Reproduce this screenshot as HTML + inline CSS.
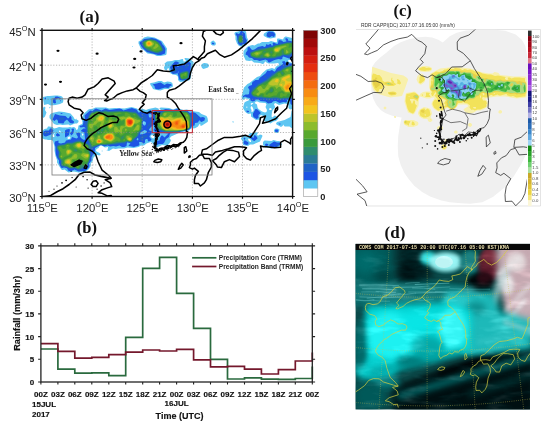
<!DOCTYPE html><html><head><meta charset="utf-8"><style>html,body{margin:0;padding:0;background:#fff;overflow:hidden}svg{display:block}</style></head><body>
<svg width="550" height="426" viewBox="0 0 550 426">
<defs><filter color-interpolation-filters="sRGB" id="bl1" filterUnits="userSpaceOnUse" x="0" y="0" width="550" height="426"><feGaussianBlur stdDeviation="0.6"/></filter><filter color-interpolation-filters="sRGB" id="bl3" filterUnits="userSpaceOnUse" x="0" y="0" width="550" height="426"><feGaussianBlur stdDeviation="3"/></filter><filter color-interpolation-filters="sRGB" id="bl5" filterUnits="userSpaceOnUse" x="0" y="0" width="550" height="426"><feGaussianBlur stdDeviation="5"/></filter><filter color-interpolation-filters="sRGB" id="bl2" filterUnits="userSpaceOnUse" x="0" y="0" width="550" height="426"><feGaussianBlur stdDeviation="1.8"/></filter><filter color-interpolation-filters="sRGB" id="db1" filterUnits="userSpaceOnUse" x="0" y="0" width="550" height="426"><feGaussianBlur stdDeviation="0.6"/></filter><filter color-interpolation-filters="sRGB" id="db3" filterUnits="userSpaceOnUse" x="0" y="0" width="550" height="426"><feGaussianBlur stdDeviation="2"/></filter><filter color-interpolation-filters="sRGB" id="db4" filterUnits="userSpaceOnUse" x="0" y="0" width="550" height="426"><feGaussianBlur stdDeviation="3"/></filter><filter color-interpolation-filters="sRGB" id="db5" filterUnits="userSpaceOnUse" x="0" y="0" width="550" height="426"><feGaussianBlur stdDeviation="4"/></filter><filter color-interpolation-filters="sRGB" id="db6" filterUnits="userSpaceOnUse" x="0" y="0" width="550" height="426"><feGaussianBlur stdDeviation="5.5"/></filter><filter color-interpolation-filters="sRGB" id="db8" filterUnits="userSpaceOnUse" x="0" y="0" width="550" height="426"><feGaussianBlur stdDeviation="7"/></filter><filter color-interpolation-filters="sRGB" id="tex" filterUnits="userSpaceOnUse" x="355" y="243" width="176" height="168"><feTurbulence type="fractalNoise" baseFrequency="0.035 0.11" numOctaves="3" seed="7" result="t"/><feColorMatrix in="t" type="matrix" values="0 0 0 0 1  0 0 0 0 1  0 0 0 0 1  1.6 0 0 0 -0.8" result="tt"/><feComposite in="SourceGraphic" in2="tt" operator="arithmetic" k1="0" k2="1" k3="0.22" k4="-0.06"/></filter><clipPath id="ca"><rect x="42" y="30.3" width="250.6" height="166.2"/></clipPath><clipPath id="cd"><rect x="355.6" y="250" width="174.4" height="159.4"/></clipPath><clipPath id="cc"><rect x="356" y="29.5" width="171" height="176.5"/></clipPath></defs>
<g clip-path="url(#ca)">
<g><path fill="#5ec6f2" fill-rule="evenodd" d="M240 30l2 -0.5l4 2l1 6l1 2l-1.5 5.5l-5.5 1.5l-2 -0.5l-2 -2.5l-1.5 -4l0 -3l-1 -2.5l0 -1l1 -1l3 -0.5l1.5 -1.5zM269 30.5l4 0.5l2 1.5l1 2l-0.5 3l-5 1l-3 -0.5l-3.5 -2l-0.5 -1l0.5 -1.5l3 -2l2 -1zM148 36.5l6.5 1l7.5 3.5l5 7.5l-0.5 5.5l-0.5 1l-5.5 1l-3.5 0l-3 -1.5l-6.5 -1l-4 -3.5l-2.5 -1l-2.5 -5.5l0 -2l3 -1.5l2.5 -2.5l3.5 -1zM286 36.5l6 1.5l0.5 2.5l2.5 3.5l-1 3l0 4.5l-0.5 3l0.5 3.5l-1.5 2l-4 0l-0.5 1l1 1l3.5 1l2 4l-0.5 19l0.5 7l-0.5 4.5l-0.5 2.5l0.5 5l-0.5 2.5l-1 1.5l-2.5 0.5l-1.5 -1.5l0 -3l-1 -1l-3 -0.5l-5.5 1.5l-3.5 -2l-1 0.5l-0.5 1l1 2l0 1l-2.5 3l-0.5 1.5l-0.5 4.5l1 1l1.5 -1.5l1 -0.5l3.5 2.5l0 0.5l-2.5 2.5l-2.5 0.5l-3 2l-3 -1.5l-2.5 -0.5l-1.5 -1.5l1 -2l-0.5 -1l-1.5 -1.5l-1.5 -0.5l-1.5 1l1.5 3.5l-5 0.5l-5 -3.5l0 -2.5l-0.5 -0.5l-2 0.5l-2 -1l-1.5 -1.5l-2 -3.5l1 -4l0.5 -1.5l1.5 -1l2.5 -1l0.5 -0.5l-0.5 -1l-2.5 -0.5l-1 0l-2 1.5l-1 -1l-0.5 -2.5l2.5 -9l3.5 -3.5l2 -1l7.5 -6l3 -1l2.5 -3l4 -3.5l5.5 -1.5l2.5 1l1.5 -2.5l2.5 -1l0.5 -1.5l-1 -1l-4 0.5l-5.5 0l-2 -1l-1 -1l-0.5 0l-1 2l-1.5 0.5l-2.5 -1l-6 -0.5l-2.5 -2l-2 0.5l-3.5 -0.5l-0.5 -0.5l-2 -4.5l0 -4.5l3.5 -4l1.5 -1l4 -1l2 0.5l3.5 -2l1.5 0l2.5 -1.5l6.5 0l2.5 -1l5.5 1.5l0.5 -1l0 -2l0.5 -1l1.5 0l4 1l1 -2l1.5 -1zM256 101.5l-1.5 1.5l2.5 1.5l0.5 3l1 1.5l3.5 2.5l3 1l1.5 -0.5l0.5 -2l-1.5 -3l1 -2.5l-1 -1.5l-6 -0.5l-2 -1l-1.5 0zM251.5 103l-1 1l1 1l2 -2l-1.5 0zM246.5 106.5l0 1.5l0.5 0l0.5 -1l-0.5 -0.5zM251 106.5l-0.5 1.5l1 2l0 2l0.5 0l1.5 -1l0 -1.5l-1 -2.5l-1 -1l-0.5 0.5zM270 108l-1 1l0.5 1l2 0l0 -1.5l-1.5 -0.5zM212 41l1.5 -0.5l2 2l0.5 1.5l-1 1.5l-2.5 0l-1.5 -1l-0.5 -2l1.5 -1.5zM132 46l1 0l0 0.5l-1 0l0 -0.5zM185.5 58l4 0.5l4 3.5l0 2l-2 6l-0.5 7l-1 2.5l-1 1l-2 0l-2.5 1l-4.5 0.5l-2 -2l0 -3l-0.5 -1l-1.5 -1l-3.5 -0.5l-2.5 -1.5l-1.5 -5l-0.5 0l-1.5 2.5l-2 -1l-0.5 -2l1 -2.5l-0.5 -1.5l2.5 -2l5 -0.5l3 -1l4 0l3 -1l1 0l0.5 2.5l1.5 0l1 -1l-1.5 -1.5l0 -0.5l0.5 -0.5zM204.5 63l3 0.5l1.5 1.5l0 1l-1 1.5l-4.5 1.5l-1.5 -1l-1 -2.5l1 -1.5l2 -1zM158.5 81l3 0l2.5 1.5l3.5 -1l3.5 0.5l1.5 1.5l0.5 3l-4.5 2.5l-4 0l-4 1.5l-4 -0.5l-3.5 -1l-1 -2l-1.5 -2l-0.5 -1.5l1 -0.5l3 -0.5l4.5 -1.5zM55.5 95.5l2 0l3.5 0.5l1.5 1l1 2.5l-0.5 3l-3 1.5l-4.5 1l-5 0.5l-2.5 -1.5l-4 1l-1 -6.5l0 -1.5l4.5 -1l2 0l5.5 -0.5zM44 106.5l1.5 1l-0.5 2.5l1.5 2.5l-1.5 4l-1.5 1.5l-1 -1.5l0.5 -2.5l0 -6l1 -1.5zM49.5 107l1 -0.5l0 1l-1.5 1l0.5 -1.5zM104.5 107.5l1.5 0l3 1l6 -0.5l9.5 0.5l7 -1.5l5.5 1.5l2 2l3 -2l4 1.5l2.5 -1l7 -1.5l3 1l0.5 1.5l1 0.5l1 -0.5l-1.5 -1.5l0 -0.5l1.5 -0.5l8 0.5l4 1.5l4 -1.5l6.5 2l3 -0.5l8.5 2l4 0.5l2.5 2l5 2l1 2l0.5 3l-0.5 1l-5.5 3.5l-1.5 0.5l0 -1.5l-1 -0.5l-1.5 2.5l-2.5 1.5l-1.5 0.5l-2 -0.5l-4 3l-8 1.5l-9 4l-1.5 2l1.5 1.5l-0.5 1.5l-1.5 2.5l-2 1.5l-5 -0.5l-4 2l-1.5 0.5l-2 -1.5l-2.5 -3.5l-1.5 -0.5l-4 1.5l-2.5 2l-3 0l-2.5 1.5l-5 1l-6 -0.5l-3.5 1l-5.5 0l-3 0.5l-2.5 -0.5l-4 2.5l-3 -1l1.5 0l0.5 -2l0 -1l-3 0.5l-3.5 -2l-1.5 0l-1.5 2.5l-2 1l-0.5 1.5l0.5 1l3 1.5l1 1l0 1l-1.5 0.5l-2.5 -1l-3 3l-0.5 1.5l-0.5 2.5l-1.5 1.5l-0.5 3.5l-1.5 2.5l-3.5 3l-7 0.5l-4.5 -1l-5.5 1l-4 -3l-1.5 0.5l-1 0l-1 -1l-4 -6.5l0 -2.5l-1.5 -4l-1 -5.5l0 -3.5l-1.5 -6l-1.5 -1l-3.5 0l-1.5 -0.5l-1.5 0l-2.5 -1l-1 -2l0.5 -5.5l2.5 -2l2.5 -0.5l1 -2l1 0l3.5 0.5l1.5 1.5l2.5 -0.5l2.5 -1l3.5 0.5l5.5 0l2 -0.5l1.5 0.5l2.5 -0.5l1.5 1l1 2l0.5 0l1 -1.5l0.5 -3l3.5 -1.5l0.5 -1l-0.5 -3l-1.5 -2l2 -0.5l1 -3.5l5 -4.5l1.5 -0.5l2 0l3.5 -1.5l9 0zM143.5 122.5l0 1l0.5 0l0.5 -1l-1 0zM59 130.5l0 1l1.5 1l0 -1.5l-1.5 -0.5zM54.5 133l-2 2.5l0.5 1.5l1 0l0.5 -0.5l-0.5 -2l1 -1.5l0 -0.5l-0.5 0.5zM82 133.5l0 2l1 0l0.5 -1.5l-1.5 -0.5zM158.5 134.5l-0.5 1.5l1 0.5l1 -1l-1 -1zM152 135l-1.5 1l0.5 1l1 1l1.5 0.5l1 -1.5l0 -1l-1 -1l-1.5 0zM74 135.5l0.5 0l0 -0.5l-0.5 0.5zM69 136.5l-1.5 1l0 1l0.5 0.5l1.5 0l1 -1l-0.5 -1.5l-1 0zM292 110.5l1 4l-0.5 3l0.5 4l-1 3l1.5 2l-0.5 1l-1.5 0.5l-2 -1.5l-4.5 0l-1 -0.5l-0.5 -1.5l-1 1.5l-1.5 1l-4.5 -2.5l-0.5 -1l1 -1.5l7.5 -2l6 -3l1 -6zM59 111.5l5 0.5l6.5 1.5l3 3.5l1 2l1.5 0.5l0.5 -1.5l0 1.5l2 1l0 1.5l-1.5 1.5l-2 0l-5 2l-1.5 -1l-6 0.5l-2.5 -0.5l-3 0.5l-3 -1l-4.5 -6l0 -2.5l1 -1.5l1.5 -1l7 -1.5zM232.5 121.5l1 0l0.5 0.5l-0.5 0.5l-1.5 -0.5l0.5 -0.5zM275.5 128.5l2 0l2 1l-0.5 2l-1 1.5l-2 0l-2 -1.5l0 -1.5l1.5 -1.5zM257 132l1 1l-1 1.5l0.5 1l1 0l1.5 -1l2 0.5l0.5 1l-2.5 5.5l-7 3l-3 0l-2 1.5l-5 -1l-0.5 -4l-1.5 -2l0 -1l1.5 -1.5l2 -1l3 1.5l1 -2l1.5 -2l1.5 0l3.5 0l2 -1zM248 138.5l0.5 2l1.5 1.5l1 0l0 -1l-0.5 -1.5l-2.5 -1zM265 140.5l6.5 0.5l2 -1l3.5 1l2.5 0l1.5 1.5l1 2l-1.5 1.5l-4.5 2l-2.5 0l-2.5 0.5l-2.5 -1l-3 0l-1.5 -1l-1 -2l0 -2.5l1.5 -1.5zM102 150.5l1 0.5l-1 0.5l-0.5 -0.5z"/><path fill="#1c54e4" fill-rule="evenodd" d="M241 31l1 0l3 2.5l0.5 4.5l1.5 2.5l-1.5 3.5l-2 0l-2.5 1.5l-2 -1l-1 -1.5l-1 -6.5l-1.5 -2.5l1 -1l2 1l1 -0.5l1.5 -2.5zM269 31.5l4 0.5l1.5 1l0.5 1.5l-0.5 2l-1 0.5l-1.5 -1l-2.5 1.5l-2.5 -1l-0.5 -1l0.5 -2.5l2 -1.5zM148.5 38.5l3.5 -0.5l4 1l5 2.5l1.5 3l1.5 1.5l1.5 3l-0.5 4.5l-4 1.5l-3 0l-11 -3l-5 -4.5l-2.5 -4.5l0.5 -1l2 -1l2 -2l4.5 -0.5zM286 38l2 1l0 1.5l4.5 1l1.5 2l-0.5 8.5l-1 2.5l0.5 2.5l-1 1l-3 0.5l-5.5 -2l-1 0.5l0 1.5l-1.5 1l-2.5 -0.5l-4 1l-5 2.5l-1.5 -0.5l-0.5 -1.5l-2 -1l-6 1.5l-2.5 -1l-3 0l-2 -2l-3 -0.5l-1.5 -2l-2 -1l0.5 -2l1.5 -2l0 -2.5l1 -1l1 0l2 2.5l1 0.5l2 -0.5l3.5 -2.5l4.5 -1l2 1l1 -0.5l1 -2.5l1.5 1l2 -1l1 0l0.5 1.5l1 0l0.5 -0.5l-0.5 -1.5l1 -1l3.5 1.5l1 -0.5l0.5 -3l0.5 -0.5l2.5 0.5l2 1.5l2.5 -0.5l0.5 -0.5l-1 -1l0 -1.5zM212.5 42.5l1.5 0.5l0.5 1l-1 0.5l-1.5 -0.5l0 -1l0.5 -0.5zM175 61.5l2 0l2.5 1.5l-2.5 1.5l0 1.5l0.5 1l1 -0.5l1.5 -1.5l3.5 0l4.5 -4l3 2.5l-1 12.5l-1 3l-6 1.5l-3.5 -0.5l-2 -7l1.5 -1l0 -0.5l-1 0.5l-0.5 1l-1 0.5l-3.5 0.5l-1.5 -1l-1.5 -6l5 -5.5zM282.5 61.5l2 -0.5l1 1.5l2 1l4 0l2.5 3l-0.5 20l0.5 7l-0.5 4l-1.5 2.5l0.5 4l-0.5 1l-1.5 -1l-0.5 -3.5l-2 -1l-1 0.5l0 1.5l-1 1l-2.5 -0.5l-4 1l-3.5 -2l-1 0l-2 0.5l-1.5 1.5l-3.5 0.5l-2.5 -2l-5 -0.5l-2 -1.5l-2.5 0l-1.5 1.5l-2 0.5l-2 -1l-0.5 -2.5l-3 -0.5l-2 -1l-2 1l0 -1.5l2.5 -1.5l2.5 0l1 -0.5l0.5 -4l-1.5 -2.5l1 -1.5l3 -1l0 -2l0.5 -1l3 -2l3 0l1 -2l6 -4.5l2 -3l2 0.5l2.5 -1l2 1.5l1 0l2 -3.5l6 -4l0 -0.5l-1 -1.5l0.5 -0.5zM158.5 83l2 -0.5l4 2.5l2.5 -1.5l2.5 0.5l1.5 0l1 1.5l-2 0.5l-1 1.5l-1 0.5l-3 -0.5l-6.5 2l-2.5 -0.5l-1 -0.5l-0.5 -2.5l-2 -1.5l6 -1.5zM56 96.5l1.5 0l3.5 1.5l-1 1.5l-1.5 -1.5l-3 1.5l0.5 3.5l-1.5 0.5l-1.5 -1l0 -3.5l1.5 -1l1 -1.5zM44.5 98l1.5 -0.5l0 1.5l-1 0.5l-0.5 -1.5zM60.5 100l0.5 1l-0.5 0.5l-0.5 -1zM130 108.5l2 -0.5l4.5 1.5l2 3l1 0l2.5 -2l2 2l2 0.5l1 -0.5l2.5 -2l1 -0.5l1 1.5l1 0.5l1.5 -0.5l2.5 -1.5l4 1l5 -2l8 1l3.5 -1l2.5 1l4 1l3.5 -0.5l3 2.5l2.5 -1l3 1l5 4.5l2.5 -0.5l2 1l-0.5 2.5l-3 1.5l-1 -0.5l-0.5 -1l-1 0l-1 2l-3 0.5l-0.5 2.5l-2.5 0.5l-2 3l-2 1l-10.5 2.5l-3 0l-4.5 1l-1 3.5l-3 2l-2 4l-1.5 1l-3.5 0l-3 1.5l-1.5 -1l0 -1.5l2 -2l3 -0.5l0.5 -2.5l1.5 -2.5l1 0l2 2l0.5 -0.5l3.5 -3.5l-9 -1l-3 0.5l-1 -0.5l-2 -2.5l1 -1.5l0 -2l0 -1l-1 -0.5l-3 2.5l-1.5 2l0.5 1l2 0.5l0.5 1l-0.5 1.5l-2 2.5l0 1l2 2.5l-0.5 1l-1 0.5l-1.5 0.5l-0.5 -0.5l-0.5 -2l-1.5 0l-1 1l0 2.5l-1 1l-0.5 0l-2 -1.5l-2 0l-0.5 0.5l0.5 2l-0.5 1l-5 1.5l-5 -1l-0.5 -0.5l2 -2l-2.5 -1l-1 0l-0.5 3.5l-2 1l-2.5 0l-2.5 -1.5l-3.5 1l-2.5 -0.5l-3.5 0.5l-2.5 -1l-3 1l-3 -1.5l-2 0.5l-4.5 2.5l-0.5 6l-1.5 0.5l-1.5 3l0 3l-2.5 3l0.5 2.5l-1 2l-3.5 3l-6.5 0.5l-4 -2l-3 1.5l-2 0l-1.5 -0.5l-0.5 -1.5l-1 -1l-2.5 -0.5l-2 0.5l-1 -0.5l-2 -4.5l0 -2.5l-1.5 -2l-1.5 -3.5l-0.5 -4.5l0 -3.5l-1 -3.5l0.5 -2l3.5 -1l0 2.5l2.5 0.5l4 -1l1 -2l5 -1l1 -2.5l4.5 1.5l1 -0.5l0.5 -1l-2 -3.5l2.5 -1l2 1l-0.5 3l1 1.5l2 1.5l1.5 0.5l0.5 -1l-0.5 -5.5l-1 -1.5l-2 -0.5l-0.5 -1l2.5 -2l2 0l0 -0.5l-1.5 -1l-3.5 0.5l-1 -1l1 -1l1.5 0l1 -1l0.5 -3.5l1.5 -2.5l-0.5 -3l5 -4.5l1 -0.5l2 0.5l2.5 -2l1 -0.5l5.5 2l4 -2l4 1.5l10 -1.5l2 0.5l2 1.5l6 -2zM149 114l-0.5 0.5l0.5 2.5l0.5 0.5l1.5 0l1 -1l0 -1.5l-1 -1l-1.5 0zM143 121.5l-0.5 1.5l0.5 1.5l1 1l1 0l1 -1.5l0 -1.5l-1 -1l-1.5 -0.5zM144.5 130l-4 2.5l-0.5 2l5 -1l1.5 -1l0.5 -1.5l-2.5 -1zM137.5 138l-1 1.5l1 1l1 -1l-0.5 -1.5zM256 109l1.5 0.5l3.5 3.5l-2.5 2l0 3l-2 1l-3 -2l-0.5 -1.5l0 -2l2.5 -4.5zM246.5 110.5l2.5 0.5l0 1l-1.5 0.5l-1 -1l0 -1zM61 113l1.5 0l0 0.5l-1.5 0.5l-0.5 -1zM55 114l5 1.5l5.5 0.5l2.5 2.5l1 -0.5l1 -2l0.5 0l1 1.5l0 2l2.5 2l0 1l-1.5 1l-2.5 -0.5l-3 -3.5l-2.5 2l-1 2l-5 -0.5l-0.5 -0.5l0 -1.5l-1 -1.5l-1 0l-1.5 1.5l-2 -1.5l2.5 -5.5zM279 123.5l1.5 0l0 1l-1.5 0l-0.5 -1zM50 128.5l1.5 0l2 2l-1.5 3l-1 1l-5 2l-2 -0.5l-1 -2l0.5 -2.5l2 -1l3.5 0l1 -2zM73 128.5l1 0.5l-0.5 4l-2 2.5l-1.5 -2l2 -2.5l-0.5 -2l1.5 -0.5zM66.5 129.5l2.5 -0.5l1 0.5l-1 5.5l-3.5 2.5l-0.5 -1l0 -6l1.5 -1zM276 129.5l1.5 0l0.5 0.5l0.5 1l-1 1l-1.5 0l-1 -0.5l0 -1l0.5 -1zM57.5 133l2.5 2l-0.5 1l-2 0.5l-1.5 -1l0 -1l1.5 -1.5zM250.5 135l1 0l1 2.5l1 0.5l0.5 -2.5l1 -0.5l2 2l0.5 1.5l-3 2.5l-1.5 -0.5l-3.5 -3.5l1 -2zM244.5 137.5l1 1l-1 1.5l-1 -1.5l1 -1zM244.5 140l4 2.5l0 1l-0.5 1l-1.5 0.5l-2.5 -1l-0.5 -1.5l1 -2zM274.5 141.5l2.5 1l2.5 0l1 1l0 1l-4 2.5l-5.5 0l-1 -0.5l-1 -1.5l5 -3.5zM266 143.5l2 0.5l0.5 1l-0.5 0.5l-1.5 0.5l-1 0l-0.5 -1.5l1 -1z"/><path fill="#1f62c6" fill-rule="evenodd" d="M269 32.5l2.5 1l-1.5 2l-1 0.5l-0.5 -0.5l-0.5 -1.5l1 -1.5zM272.5 33.5l1 0l0 1l-1.5 -1zM241 34.5l2 0.5l1 4.5l1 2l-0.5 1l-3.5 1.5l-2.5 -1l-1 -3.5l0.5 -3.5l1 -1l2 -0.5zM149 39l3 0l3.5 1l4.5 2.5l3.5 6l0.5 1.5l-1 1.5l-3.5 2.5l-1.5 0l-11 -3l-3.5 -3.5l-2 -4.5l2.5 -3l4.5 -1zM280.5 41.5l1.5 1.5l7.5 -1.5l2.5 0.5l1 1l0.5 1.5l0 7.5l-2 3l-1 2l-1.5 0.5l-2 -1.5l-3.5 -0.5l-2 1l-1 1l-2.5 0l-2 1l-4 0.5l-7.5 -0.5l-4 1l-6 -1l-4 -1.5l-0.5 -1l-0.5 -3l1 -1.5l10 -4l4 0.5l5.5 -1.5l2.5 0l2.5 -2l3.5 0l1.5 -1l0 -1.5zM187.5 63.5l1 1l0 1.5l-1.5 2l-2.5 0.5l0 -0.5l1 -2.5l2 -2zM285 64.5l2 1.5l4.5 -1l2 1.5l-0.5 20l0.5 7.5l0 3l-1 1.5l-2 0.5l-7 0l-2.5 1.5l-3 -0.5l-2 -1l-5 0l-1 0.5l0 2l-1.5 1l-1 -1l-1 -2.5l-1.5 0l-1 1l-1 0l-2 -2l-3.5 0l-4 -1l-2.5 -2l-0.5 -2l1.5 -5.5l3.5 -1l1 -1l1 -2l2.5 -0.5l5.5 -3l2.5 -3l2.5 -1.5l1.5 -2.5l2.5 0l3 -3l2.5 -0.5l3 -2.5l0.5 -1.5l1 -1zM171.5 67.5l6.5 1l3 -1.5l2.5 2l0 0.5l-0.5 1l-1.5 -1.5l-2 0.5l-2.5 1l-1.5 2l-2 0.5l-1.5 -1.5l-1 -3l0.5 -1zM182.5 71l5 -0.5l1.5 1l0.5 2l-1 5l-6 1.5l-2 -0.5l-1 -3l-0.5 -3l1 -1l2.5 -1.5zM264.5 75.5l2.5 1l-0.5 1l-1 0.5l-1.5 -0.5l-0.5 -1l1 -1zM261 78.5l1 0l0 0.5l-1 1.5l-0.5 -1l0.5 -1zM158.5 85l1.5 0l-0.5 0.5l-1 0l0 -0.5zM167 85l1 0.5l0 1l-1 0l-0.5 -1zM253 99.5l0.5 0.5l-0.5 0l0 -0.5zM131.5 109.5l1.5 0.5l-1 1l1 0.5l2 -1l1 0.5l1.5 2l2 1l1 2l1.5 1l1 -0.5l-2.5 -2.5l0.5 -1l4 1.5l1.5 2l0.5 2l-0.5 2l-2.5 -0.5l-1 0.5l-1 2.5l0.5 4l-0.5 3l-2.5 3l-1.5 3.5l-5.5 6l-5.5 -0.5l-2 2.5l-3 -1l-7 1.5l-7.5 0l-2.5 0.5l-5 -0.5l-6 2.5l-1 2l-2 1l0 5l-1 5l-2 5l-1.5 1l-3 1.5l-1 2l-4 0.5l-4 -2l-4.5 0.5l-3.5 -1.5l-5 -1l-1 -1.5l0 -4l-3 -5l1 -4l-2 -3l0 -3l2 -1.5l6.5 -1l3.5 -2l2.5 0.5l2.5 -0.5l5.5 -2.5l4 2.5l5.5 2l0 -1.5l-2.5 -4l0 -1.5l1 -1l-1 -3l0.5 -4.5l-0.5 -2l-1.5 -1l0 -2.5l0.5 -1.5l1.5 0.5l2.5 -7l1.5 -2l5.5 -2.5l5.5 1l4 -1l3 1l4.5 0l6.5 -1l4 1l6.5 0l0.5 -0.5l0.5 -1zM166.5 110l7 0.5l3 -0.5l3 1l7.5 0l3 3l2 3.5l1 -1.5l-0.5 -2l1 -0.5l1.5 0.5l3 3l0.5 1l-2 2.5l-5 1l-1 6l-1 1.5l-1.5 0.5l-10.5 2.5l-6 0l-6.5 0l-7.5 -1.5l-3 -9l-1.5 -8l3.5 -2.5l4 1l6 -2zM256 111l0.5 0l0 0.5l-0.5 -0.5zM59.5 117.5l4 0l1.5 0.5l0 1l-4 1.5l-2 -1.5l-0.5 -1l1 -0.5zM150.5 120l2 2l0.5 1.5l-2 2l-2.5 1l-0.5 2l-1 0.5l-0.5 -1l1.5 -3.5l2 -2.5l0 -1.5zM45 132l2 -0.5l1.5 1.5l-3.5 2l-1 -1.5l1 -1.5zM145.5 135l2 0l0 1l0 1l-3 1l-1.5 2.5l-3 -0.5l-0.5 -2l1.5 -2l1.5 -1l2.5 0zM135 141l1 0.5l-1 -0.5zM277.5 144l1 0l0 0.5l-1 1l-1.5 0l-0.5 -1l1.5 -0.5z"/><path fill="#2a7a96" fill-rule="evenodd" d="M239.5 35.5l1 -0.5l1.5 0.5l1 2.5l0 3l-1 1.5l-1 0.5l-1.5 0l-1 -2l0 -3.5l1 -2zM148.5 39.5l3.5 0l3 0.5l4 2.5l3.5 6l0.5 1.5l-0.5 1l-5.5 2l-9.5 -2.5l-4 -3.5l-1.5 -4l2 -2l4 -1.5zM288 42.5l4 0l1 1.5l0 8l-3.5 3.5l-6.5 -0.5l-3 1.5l-2 0.5l-4 1l-6.5 0.5l-3 -0.5l-4 0.5l-6 -0.5l-3.5 -1.5l-0.5 -1l-0.5 -2l0.5 -1l5.5 -2.5l4.5 -1l12 -2l3 -1.5l3 -0.5l9 -2.5zM289.5 66l2.5 -0.5l1 1.5l0.5 15.5l-0.5 4l0.5 7.5l-0.5 3l-0.5 1l-2 0.5l-7 0l-2.5 0.5l-5 -1l-7.5 0.5l-8 -1l-3 0l-4 -1l-1.5 -1.5l-1 -2l2 -3.5l5.5 -5l8 -4.5l11 -8.5l2.5 -1l5.5 -3.5l4 -1zM173.5 69l1 0l1 1l-1.5 1.5l-1 -1l0.5 -1.5zM185 71.5l2 -0.5l1.5 1l0.5 1.5l-0.5 4.5l-1.5 1l-5.5 0.5l-1.5 -2.5l-0.5 -3.5l1.5 -1l3.5 -1zM96.5 111l2.5 0l2.5 0.5l3.5 -1l3.5 1l11.5 -0.5l16 1.5l6.5 6.5l-0.5 4l0 4l-0.5 3l-2 2.5l-2 4l-4 3l-2 2.5l-4.5 -0.5l-2.5 1l-19.5 2.5l-5 -0.5l-9.5 3.5l-0.5 2l0.5 5.5l-1.5 5.5l-2 4.5l-6 3.5l-3 0.5l-3 -1.5l-5 0.5l-3 -1.5l-5 -1l-1 -1.5l0 -3.5l-2.5 -4l0.5 -5l-2 -3.5l0 -2l2 -1.5l5 -0.5l3.5 -1.5l4.5 0l4 -1.5l3 -1l10.5 4.5l0 -2.5l-2 -4l0.5 -3l-1 -3l-0.5 -7l1.5 -7l1.5 -4l1.5 -1.5l5.5 -2zM164.5 111l2.5 -0.5l6.5 0.5l3 -0.5l11 1.5l2.5 3l1 3.5l-1 9.5l-1.5 1l-4 1.5l-7.5 1l-11.5 0l-7 -2l-2 -2.5l-1.5 -6l0 -8l1.5 -1.5l4 1l4 -1.5z"/><path fill="#2f8c6e" fill-rule="evenodd" d="M240 36l1 -0.5l1 1l0.5 3l0 2l-2 1l-1.5 -0.5l-0.5 -1.5l0.5 -3l0.5 -1.5zM148 40l3 -0.5l4 1l3 2l3.5 4.5l1 2.5l-0.5 1l-3.5 2l-2.5 0l-7.5 -2.5l-3.5 -2.5l-1.5 -1.5l-0.5 -3.5l1.5 -1.5l3 -1zM287.5 43l4 0l1.5 1l-0.5 8l-3 2.5l-3.5 0.5l-3 -0.5l-3 1.5l-2.5 0.5l-2.5 1l-7.5 0.5l-3 -0.5l-8 0l-4.5 -1l-1 -1l0 -2.5l4.5 -2l14.5 -3.5l2.5 -0.5l3.5 -1.5l11.5 -2.5zM289.5 66.5l2.5 -0.5l1 1.5l-0.5 4l0.5 11.5l-0.5 3.5l0.5 8l-0.5 2.5l-0.5 1l-8.5 0l-2.5 0.5l-5 -1l-7 0.5l-8 -1l-3 0l-4.5 -1l-1.5 -1.5l-0.5 -1.5l1.5 -2.5l5.5 -5l9 -5l4 -4l6.5 -5l2.5 -0.5l5 -3l3.5 -1.5zM185 72l2 -0.5l1 1l0 5l-1 1l-5.5 0.5l-1.5 -2l0 -3l1 -1l3.5 -1zM166 111l7.5 0.5l3 -0.5l10.5 1l2.5 3l1 3l-0.5 8.5l-0.5 1.5l-1.5 1l-4 1.5l-7 1l-11.5 0l-7 -2.5l-2 -3l-1 -5.5l-0.5 -5l0.5 -3l1 -0.5l1 0l3.5 1.5l5 -2.5zM96.5 111.5l2.5 0l2.5 1l3.5 -1l3 0.5l18.5 -0.5l9 1.5l2 1.5l2 2.5l2.5 2.5l-1 10l-2.5 3l-1.5 3.5l-3.5 3l-2.5 2.5l-4.5 -0.5l-2 1l-13.5 2l-6 0.5l-4.5 -0.5l-3 1l-5 2l-1 -0.5l-3.5 -8l0.5 -3l-1 -3l0 -7l1 -7.5l2 -3.5l1.5 -1.5l4.5 -1.5zM79 141.5l1.5 0l7 3l2 2l-0.5 4l1 5l-1 5.5l-2.5 4l-6.5 3.5l-2 0.5l-3 -1.5l-5 0.5l-3 -1.5l-4.5 -1l-1 -1.5l0.5 -3l-3 -4l0.5 -5l-2 -4l0 -1.5l1.5 -1l5 -0.5l3.5 -1.5l4 0l7 -2z"/><path fill="#3a9a3c" fill-rule="evenodd" d="M240.5 36.5l1 0.5l0.5 3l-0.5 1.5l-1 0.5l-1 -0.5l-0.5 -1l1 -4zM149 40l6 1l3 2l2.5 3.5l1 2.5l0 1.5l-4 1.5l-3 -0.5l-3 -1l-2.5 -2l-2.5 -0.5l-1.5 -1l-1 -1.5l-0.5 -3l2.5 -1.5l3 -1zM287.5 43.5l4 0l1 1l0 6.5l-0.5 1l-3 2l-3 0.5l-2 -0.5l-0.5 -1.5l0 -2l-1 -0.5l-1 1l0.5 2l-0.5 1.5l-1.5 1l-2.5 0l-3.5 1.5l-3 -0.5l-3.5 1l-4 -0.5l-0.5 -0.5l-0.5 -2l-2 1l-0.5 1.5l-3 0.5l-5 -1.5l-1 -1l0.5 -2l4 -1.5l6 -1.5l2.5 0l6 -2l2.5 0l3.5 -2l11 -2.5zM264 51l-0.5 1l0 1l2.5 -1.5l0 -0.5l-1.5 0zM271 51l-1 1.5l1.5 1l0.5 -0.5l0.5 -1l-1.5 -1zM289.5 67l2 -0.5l1 1l-1 3.5l1.5 11l-1 4.5l0.5 7.5l-0.5 3.5l-2 0l-2 -0.5l-7 1l-3 -1l-3.5 -0.5l-5 1l-5 -0.5l-2 -0.5l-1 -1.5l-1.5 1l-2 0.5l-4 -1l-1.5 -1l-0.5 -1.5l1.5 -2l5.5 -5.5l9.5 -4.5l3.5 -4l2.5 -1l4 -4l2.5 -0.5l0.5 2.5l1.5 0.5l0.5 -1.5l-2 -1.5l0.5 -1l4 -2.5l3 -1zM270.5 89l-0.5 2l0.5 1l1 0l1 -0.5l0.5 -1.5l-1 -1.5l-1 0zM184.5 72.5l2 -0.5l1 0.5l0 4.5l-1 1l-4.5 1l-1.5 -2.5l0 -2.5l4 -1.5zM165.5 111.5l8.5 0.5l2.5 -0.5l10.5 1l2 2.5l1 2.5l0 9l-0.5 1.5l-6 2l-12 1l-6.5 0l-6 -2.5l-1.5 -2l-0.5 -2l-1.5 -8l0.5 -3.5l0.5 -1l1.5 0.5l3 2.5l0.5 0l1 -2l3 -1.5zM96.5 112l2.5 0l2 1.5l4 -1.5l3 0.5l18.5 -0.5l3.5 1l5.5 0.5l3 4l3 2l-1 10l-1 1.5l-2.5 1.5l-0.5 3l-3 2.5l-2.5 3.5l-1.5 0l-3 -1l-2 1l-8 0.5l-6 1.5l-12.5 1l-6 1.5l-3.5 -7.5l1 -3l-1.5 -3l0 -7l1 -7.5l1.5 -3l1.5 -1.5l4.5 -1.5zM106.5 117.5l0 1.5l1 -1l-0.5 -1zM102 128.5l-1 2l0.5 1l1.5 -0.5l0.5 -1l0 -1.5l-1 0zM97.5 131l-0.5 2l0.5 1l2 -0.5l1 -1l-0.5 -0.5l-2 -1.5zM123 136l-2 1.5l0.5 1.5l1 0l1.5 -2l0 -1l-1 0zM78.5 142l2 0l5 2l2.5 1.5l0.5 1l-0.5 4l2 5l-1.5 5.5l-2.5 4l-1.5 0.5l-1.5 0l-1.5 -1.5l-1 1l-0.5 2.5l-2 1l-3 -1.5l-5 0.5l-3 -1.5l-4 -1l-0.5 -1l0.5 -3.5l-2.5 -2l-1 -1.5l0.5 -4.5l-2 -4.5l0.5 -1.5l1.5 -0.5l4 -0.5l3.5 -1.5l4 0.5l4.5 -2l2.5 -0.5zM71 147.5l0.5 0.5l0 -0.5zM74.5 149l-0.5 1l0.5 1l1.5 0.5l1.5 -0.5l-1 -1.5l-1.5 -0.5zM81.5 162.5l0.5 0.5l0 -0.5z"/><path fill="#58a82e" fill-rule="evenodd" d="M148 40.5l3 0l4 1l2 1.5l3 3.5l1 2.5l-0.5 1l-2 0.5l-4.5 0.5l-1.5 -1l-2 -2.5l-3.5 0l-1.5 -1l-0.5 -1l-0.5 -3l3.5 -2zM240 40.5l1 0l0 0.5l-0.5 0.5l-0.5 -1zM285.5 44.5l2.5 -0.5l1 0.5l-0.5 3l0.5 0.5l2.5 -1.5l1 2.5l-1 2.5l-2.5 2l-3.5 0.5l-1 -0.5l-0.5 -4l-0.5 -0.5l-1 0l-1 0.5l-2.5 3.5l-2.5 0.5l-1 2.5l-2 0.5l-1.5 -0.5l0.5 -1l1.5 -2l-1.5 -3.5l1.5 -1.5l2.5 -1.5l8.5 -2zM260.5 51l2 0l-0.5 2l-4 3.5l-2 0l-4 -1.5l0 -1.5l1.5 -1l3 -1l3.5 -0.5zM266.5 52.5l2 -0.5l2 3l0 1l-3 1l-3.5 -1l0 -1.5l2.5 -2zM287.5 68l2 -0.5l1 0.5l-0.5 4l2 3l0.5 8l-0.5 3.5l0.5 3l0 5l-1 2.5l-1.5 -0.5l0 -2.5l-1.5 -0.5l-1 0.5l-1.5 2.5l-2.5 -0.5l-2 1.5l-1.5 -0.5l0 -2.5l0.5 -1.5l1 -0.5l2.5 1.5l0.5 -0.5l-1.5 -2l-1 -0.5l-1.5 0.5l-1.5 0l-1.5 2l-1 2l-2.5 0l-4.5 1.5l-2.5 -0.5l-3 0l-0.5 -0.5l0.5 -1.5l-1.5 -1l-1.5 0.5l-2.5 2l-5.5 -2l0 -1.5l2.5 -2l1 -2.5l2 -1.5l4 -2l2 1l1 -0.5l7 -7l5.5 -2l-0.5 -2l1 -1l1.5 0l2 3l1.5 -0.5l1.5 -2l-2 -3l4.5 -2.5zM271 87.5l-2.5 3.5l-1.5 1l-1.5 2l0.5 0.5l1 0.5l2 -2l2 0.5l2.5 -1.5l0.5 -2l0 -1l-1.5 -1.5l-1.5 0zM256 91l0.5 0.5l0 -0.5zM185 73l1.5 -0.5l0.5 0.5l-0.5 3l-1 0.5l-2.5 -1l-0.5 2l-1 0l-0.5 -1l0 -2l2 -0.5l1.5 -1zM165.5 112l4 0l3.5 1l0 3l1 1l3 -1.5l-0.5 -3l4 0l3 1l-0.5 2.5l1 0.5l0.5 -1l-0.5 -2l1.5 -0.5l1 0l2 2l0.5 1.5l0.5 10l-0.5 1.5l-5 2l-6.5 0.5l-11.5 0l-4.5 -1.5l-3.5 -3.5l0.5 -6l-2.5 -2.5l0.5 -3.5l0 -0.5l1 0l2 2.5l2 0.5l1 -0.5l0.5 -2.5l2.5 -1zM96.5 112.5l2 0l2 1.5l2.5 0l1.5 -1l0.5 0.5l1 2.5l-0.5 4l1 1l1.5 -1l1.5 -4l2 0l1 1l-0.5 2l3 1l1.5 -1l1 -2.5l7.5 -1l-0.5 -2l1.5 -1l1.5 0.5l2.5 1.5l1.5 2.5l1.5 0.5l2 -1l2.5 2l3 1l0.5 1.5l-1 3l0.5 2.5l-0.5 3l-1.5 1.5l-2.5 0.5l-5.5 3l-1.5 -4l-7.5 5l-1.5 0l-1 -2l-0.5 -0.5l-3.5 2l0.5 1l4 2l1 2.5l-1 1l-1 0l-1.5 -1l-2.5 1.5l-3.5 1l-4 -0.5l-2 1l-3 0l-5 0.5l-4.5 1.5l-3.5 -7l1.5 -3l2.5 -0.5l3 3l1.5 -3l4 -0.5l2.5 -2.5l1.5 -3l2 2.5l2 0l-2.5 -4l0 -4l-0.5 -1l-1 0.5l-2 3.5l-3.5 2.5l-2 -0.5l-1.5 -2.5l-2 0.5l-1 1l1 3l-4.5 2.5l-1 0l-1 -6.5l0.5 -2.5l1 -1.5l2.5 0l0.5 -1l-2.5 -2l0 -2l1 -2.5l1.5 -1.5l2.5 0.5l-1 2l0.5 1l3 -1l0.5 -1l-3 -1l0 -0.5l1.5 -1zM118 120l-0.5 3l-2 1l1 1.5l2 1l3 -1.5l2.5 -0.5l0.5 -4l-1 -0.5l-2 1.5l-1.5 -1.5l-1.5 -0.5zM134.5 124.5l-1 2l0.5 1l1 -1l1 -1.5l-0.5 -0.5l-1 0zM129.5 129l0.5 0l-0.5 0zM114.5 113l5.5 -0.5l2 1l-4 0.5l-2 2l-2.5 -2l0 -0.5l0.5 -0.5zM133.5 114l1.5 0l0.5 1.5l-1 0l-1.5 -1l0 -0.5zM94.5 130.5l1 0.5l0.5 1l0 1.5l-1 1l-1 -1l0.5 -2.5zM127 135l3 -0.5l2.5 1.5l0 2l-1 2.5l-2.5 0.5l-3.5 -2l0 -2.5l1 -1.5zM124 139l1 0l0 1.5l-1 0.5l-1 -0.5l0.5 -1zM78.5 142.5l2 0l7.5 4l0 1l-2 1l-2 2l1 2l3 0l1.5 2l0 1.5l-2 5l-2 1l-4.5 -3.5l-2 -0.5l-1 3l1 2.5l0 3.5l-1 1l-3 -2l-1.5 1l-2.5 0l-1.5 0l-2 -2l-3.5 -0.5l-0.5 -0.5l0.5 -4l5 -3l2.5 -0.5l1 -2.5l-1.5 0l-2.5 2l-3.5 0.5l-2.5 2l-1.5 0l-1 -2l1.5 -3l-0.5 -1l-2.5 -4.5l0 -1l2 -0.5l2.5 2.5l2.5 -0.5l0.5 -0.5l-0.5 -2l0.5 -1l2.5 -0.5l1.5 1l-1 2.5l3 2l1.5 2.5l4.5 0l2.5 1l1.5 -1l0 -1.5l-8 -3.5l-1 -1.5l3 -3l2 -0.5zM73.5 160l-0.5 0.5l-0.5 2l2 2.5l1.5 -3.5l-0.5 -1l-1.5 -0.5z"/><path fill="#8cbc2c" fill-rule="evenodd" d="M147.5 41l2 -0.5l1.5 0.5l3 2l0 1l-2 2.5l-3 0.5l-2 -0.5l-1 -1l-0.5 -2.5l2 -2zM155.5 43.5l2.5 1l0.5 2l-2.5 2l-2 0.5l-1 -1l2 -2l0.5 -2.5zM285.5 45.5l1 0.5l0 0.5l-5 2l-3 3.5l-3 0.5l-1.5 -1.5l0 -2l1.5 -1.5l10 -2zM286 49.5l2 1.5l0.5 1l-0.5 1l-2 0.5l0 -4zM256.5 52l4.5 0.5l-3 2.5l-1.5 0.5l-2.5 -2l2.5 -1.5zM267.5 53l1 0.5l1 1.5l0 1l-1.5 1l-3 -1.5l0.5 -1.5l1.5 -1zM274 55l0.5 0.5l-0.5 0l0 -0.5zM287 69l1.5 0l0 1.5l-0.5 1l-2.5 -0.5l0 -1l1 -1zM185.5 73.5l0.5 0l0 0.5l-0.5 0.5l-0.5 -0.5l0.5 -0.5zM288.5 74l1.5 0l1 1l1 7l0 2l-0.5 2.5l0.5 3.5l-0.5 4l0 -0.5l-2 -1l-4 0l-4 -3l-0.5 -1.5l-1 -1l-1.5 0l-2 2l-1.5 -2.5l-3.5 0l-1.5 0.5l-1.5 2.5l-2.5 1l-1.5 2l-4 0.5l-2 2.5l-1 0l-1 -1l0 -1l2 -1l0.5 -1l-2 -3l2 -2l2 -0.5l2 3l1.5 0l3 -4l1 -2.5l4 -3.5l4 -1.5l3.5 0l8 -3.5zM276 90.5l0.5 0.5l-0.5 1l-0.5 -0.5l0.5 -1zM165 113l2 0.5l-1 1.5l-1 1l-1 0l-0.5 -1l0 -1l1 -1zM179.5 114l1 0l0 0.5l-1 -0.5zM186.5 114l1.5 1.5l-0.5 1l-1 0l-0.5 -0.5l0.5 -2zM101 115l2.5 0l1.5 2l-1 5.5l-1.5 3.5l-1.5 1l-1 0l0 -2l1.5 -2l-1 -1l-1 0l-2 0.5l-1.5 2l-2.5 0.5l-1.5 3.5l-2 -0.5l-1 -2l0.5 -2l2.5 0l1 0l1.5 -2.5l1.5 -1l0 -2.5l3.5 -3l1.5 0zM170.5 114.5l1 0.5l0.5 2l1.5 0.5l5.5 0l2.5 -1l6.5 3l1 2l0 6l-5 2l-6.5 1l-11.5 0l-3.5 -1.5l-2.5 -4l-1 -7.5l2 -1l3.5 1l3 -0.5l2.5 -2zM157 115.5l0.5 0l0 1l-0.5 0l0 -1zM128 116.5l1 -0.5l8.5 4l2 0l0.5 0.5l0 1l-3 2l-2.5 0l-2 3l-1 1l-2.5 0l-3.5 -0.5l-2.5 1l-1 2l0 3l-0.5 1l-2.5 -2.5l-2.5 1l-2 -0.5l-0.5 -3l0.5 -2.5l2.5 0.5l2 3l0.5 0l1 -3.5l1 -0.5l3 0.5l0.5 -0.5l0 -6.5l-0.5 -0.5l-3 1l-2 -1.5l-0.5 -1l4.5 -1l2.5 1l2 -1zM92 118l1 0.5l-1 0l0 -0.5zM110 119.5l4 2l-1 1.5l1 3.5l-3.5 2.5l-2 -1l-1 -2l1 -4.5l1 -2zM137.5 124.5l1.5 0.5l0.5 1l-0.5 3.5l-1 1l-2 -0.5l-2 1l-1 0l4.5 -6.5zM125 129l1 -0.5l1 1l-1 1.5l-1 -0.5l0 -1.5zM108 133l5 -0.5l2.5 5.5l-1.5 2l-3 2l-1 0l-5.5 -2.5l-1.5 -1.5l0 -1.5l1 -1.5l3.5 -2zM99 135.5l1 0.5l0.5 2.5l2.5 1.5l0.5 1.5l-0.5 1l-2 0.5l-3.5 0.5l-1.5 -1l-0.5 -2l2 -2l0.5 -2.5l1 -0.5zM91.5 136l1.5 0.5l1 2l-1 4l-3.5 -3.5l0.5 -1.5l1 -1zM127 136l1.5 0l3 1.5l0.5 1l-0.5 1.5l-1.5 1l-2.5 -1l-1 -2l0 -1.5zM78 143l1.5 -0.5l1.5 0.5l2 3l2 0l0 1.5l-2 1.5l-1.5 -1l-2.5 0.5l-1.5 -0.5l-2.5 -2l1 -2l1.5 -1zM67.5 145l1 0.5l-0.5 0.5l-1 -0.5l0.5 -0.5zM67.5 149.5l2.5 0l1 0.5l1 1.5l-1 1.5l-3 2l-1.5 -0.5l-0.5 -3l1 -2zM83 153l5.5 1l0.5 1.5l-1 2.5l-1 0.5l-2 0l-3.5 -2.5l-0.5 -1l2 -2zM74.5 154l2 0l1 2l-1 2.5l-4 0.5l-1 1l0 3.5l1.5 2.5l-0.5 0.5l-1.5 0l-2.5 -2l-3.5 -1l-0.5 -1.5l0.5 -2l2 -1l4 -1l3.5 -4zM61.5 155.5l1 0.5l-1 1.5l-1 -1l1 -1zM77 165l0.5 0.5l0 0.5l-0.5 -1z"/><path fill="#bcc42a" fill-rule="evenodd" d="M149 41l2 0.5l2 2.5l-1.5 1.5l-3 1l-2 -1l-0.5 -2l0.5 -1.5l2 -1zM277.5 48l2.5 -0.5l0.5 0.5l-2 3.5l-3 0l-1 -1l0 -1l1 -1l2 -0.5zM257 53l1 0l0 0.5l-1 0.5l-0.5 -0.5l0 -0.5zM267.5 54l1 1l-0.5 1l-1.5 -1l0 -0.5l1 -0.5zM288 75l1.5 -0.5l1 1.5l0 3l1.5 4l-1 4l0.5 3.5l-0.5 1.5l-5 0l-1 -0.5l-2.5 -4l-2.5 -1.5l-1.5 -1l2 -3l1 -4l6.5 -3zM282.5 82l0 0.5l1 1l0 -1l-1 -0.5zM276 78.5l2.5 0l1 1.5l0 1.5l-1.5 2.5l-0.5 1.5l-2.5 -0.5l-2 0.5l-3.5 -0.5l-0.5 -1.5l0.5 -1l3 -2.5l3.5 -1.5zM267.5 87.5l0 1l-0.5 0.5l-0.5 -0.5l1 -1zM100 115.5l2.5 0l2 1.5l-0.5 2l-1.5 2l-4 0l-1 -1l-0.5 -1.5l2.5 -2.5zM170 117l4 2l2.5 -1l5 -0.5l2 1l1 1.5l3 0.5l1 1.5l0 5.5l-5 2l-5.5 0.5l-9 -0.5l-3 0.5l-1.5 -0.5l-2 -1.5l-2 -3l-1 -5.5l0 -1.5l2 -1l3.5 1l4.5 -1zM128 117.5l1.5 -0.5l3.5 1.5l2 2l0 1.5l-2 3.5l-2 1.5l-3 0l-2 -1.5l-0.5 -6l2 -2zM122.5 118l1 0l-1 0.5l-0.5 0l0 -0.5zM109.5 123.5l1.5 0l1.5 2l-0.5 1.5l-1.5 1l-1 0l-1 -1.5l0 -1.5l1 -1.5zM137.5 126.5l0.5 -0.5l0 1l-0.5 0l0 -0.5zM116 128.5l1 0.5l-0.5 0.5l-1 -0.5l0.5 -0.5zM108 133.5l4 0l2 2.5l0 2.5l-2.5 2.5l-1.5 0l-3 -1l-2 -0.5l-1 -1.5l0 -1l0.5 -1.5l3 -2zM91 137.5l1 0l0.5 0.5l-0.5 1.5l-1.5 -0.5l0.5 -1.5zM128 137.5l1.5 0l1.5 0.5l0.5 1l-0.5 1l-1 0.5l-1.5 -0.5l-1 -1l0.5 -1.5zM98.5 139l1 0l2.5 1.5l0 1l-0.5 1l-2 1l-2.5 -0.5l-0.5 -2l1.5 -2zM78 143.5l2 -0.5l1.5 1.5l-0.5 2l-1.5 1l-1.5 0l-1.5 -1.5l0 -1.5l1 -1zM68 150l2 0l1 1.5l-0.5 1l-2 1.5l-1 0l-1 -2l0.5 -1l0.5 -1zM86 154.5l1.5 -0.5l1 0.5l0 1.5l-0.5 1l-2 0l-2.5 -2l2 -0.5zM75 155.5l0.5 0.5l-1 1l0 -1.5zM67.5 159.5l2 -0.5l1 1l0 2.5l-1 1.5l-3.5 -0.5l-1 -1l0.5 -1.5l2 -1.5z"/><path fill="#f2c41e" fill-rule="evenodd" d="M148.5 41.5l1.5 0l1 1l1 1.5l-0.5 1l-2.5 1l-1.5 -0.5l-1 -2.5l1.5 -1.5zM276 49l2.5 0.5l-0.5 1.5l-1.5 0.5l-1 -0.5l-0.5 -1l0.5 -1zM288.5 75.5l1.5 0.5l-0.5 1.5l-3.5 1.5l-0.5 1l2.5 1.5l2.5 0l1 1l0 1.5l-1.5 4.5l1 2l-0.5 0.5l-4.5 0.5l-1 -1l-1.5 -3.5l0 -1l1.5 -2l0 -2.5l-0.5 -0.5l-2.5 -1l0 -1l1.5 -1.5l5 -2zM276.5 79l1.5 0l0.5 1l-0.5 1.5l-1 1l-2.5 -1l2 -2.5zM280.5 84l1.5 0l0.5 1.5l-1 0.5l-1 -0.5l-0.5 -0.5l0.5 -1zM100 116.5l2 -0.5l1.5 1l0 1.5l-1 1.5l-2 0.5l-2 -1l0 -1l1.5 -2zM128 118l1.5 -0.5l2.5 1l2 2l-0.5 3l-1 2l-1.5 1l-3 0l-2 -1.5l0 -5l1.5 -2zM160.5 118l1.5 -0.5l2.5 1.5l3.5 -0.5l1.5 1.5l2 0.5l6 -2l3.5 0l2 2.5l4.5 0.5l1 5.5l-1 1l-4.5 1.5l-5.5 0l-3.5 0l-2.5 -1.5l-4.5 1.5l-1.5 0l-2.5 -1.5l-1 -2l-0.5 -2l0.5 -2.5l-2 -1.5l0.5 -2zM110 124.5l1 0l1 1l-0.5 1l-1 0.5l-1.5 -0.5l0 -1l0.5 -1zM108 134l3.5 0l1.5 1l0.5 2.5l-1.5 2.5l-1.5 0.5l-1.5 0l-4 -2l-0.5 -1l0 -1.5l3 -2zM128.5 138.5l1.5 -0.5l1 1.5l-1.5 0.5l-1 -0.5l0 -1zM98.5 139.5l1.5 0l1 1l0.5 1l-0.5 1l-2 0.5l-2 -0.5l0 -1.5l1 -1.5zM78.5 144l1.5 0l0.5 1l0 1l-1.5 1l-1 -0.5l-1 -1l1 -1.5zM68 151l1 -0.5l0.5 1l-1 1.5l-1 -1l0.5 -1zM87.5 155l0.5 1l-1 0.5l-0.5 -1l1 -0.5zM67.5 160.5l1 -0.5l1 0.5l0.5 1.5l-0.5 1l-1.5 0.5l-1.5 -1l0 -1l1 -1z"/><path fill="#f8aa18" fill-rule="evenodd" d="M148.5 42l1 0l1 1l0.5 1l-1 1l-1.5 0.5l-1 -1l-0.5 -1.5l1 -1zM276 50l1 0.5l-1 0l0 -0.5zM290 83l0.5 0l0.5 1l-1.5 4l-1.5 2l-2 0.5l-1.5 -2.5l0 -1.5l2.5 -2.5l2.5 -1zM101 117.5l1 0.5l0 1l-0.5 0.5l-1 -0.5l0.5 -1.5zM128 118.5l1.5 -0.5l2 0.5l2 2l-0.5 3l-2 2.5l-2.5 0.5l-2 -1.5l-0.5 -4.5l0.5 -1l1 -1zM161 118.5l1.5 0l0.5 1.5l-2 0l-0.5 -1.5zM167 119.5l5 2l5.5 -2l3 -0.5l0.5 1.5l0 2.5l3.5 -1l2.5 0.5l0.5 4.5l-4.5 2l-6 0l-5.5 -2l-6 1.5l-2 -1.5l-1 -3l1 -3.5l3 -1zM110 134l2 0.5l1 1.5l0.5 1.5l-1 1.5l-2.5 1l-4.5 -1.5l-1 -1l0.5 -1.5l2.5 -1.5l2 -0.5zM98.5 139.5l1 0l1 1l0.5 1l-0.5 1l-1.5 0.5l-1 -0.5l-1 -1l1 -1.5z"/><path fill="#f88c12" fill-rule="evenodd" d="M148 43l1.5 -0.5l0.5 1.5l-1.5 0.5l-0.5 -0.5l0 -1zM287.5 85l1.5 0l0 1.5l-1.5 2.5l-1 0.5l-1 -2l2 -2.5zM128 119l3.5 0l1.5 1.5l0 2.5l-2 2.5l-2.5 0.5l-1.5 -1l-0.5 -4.5l1 -1.5zM178 120l1.5 0l0.5 0.5l-0.5 3l0 1.5l6.5 -2l0.5 1l0 3l-3 1.5l-3 0l-2.5 0l-1 0l-1.5 -1.5l-3 -0.5l-6 1.5l-1.5 -0.5l-1 -1l-0.5 -3l0.5 -2l1 -0.5l2 -0.5l5.5 2l2.5 -1.5l3 -1zM109 134.5l2.5 0.5l1 1.5l0 1.5l-1.5 1.5l-4.5 -0.5l-1.5 -1.5l1 -1.5l3 -1.5zM98.5 140l1.5 0.5l0.5 1.5l-2 0.5l-1 -1l0.5 -1z"/><path fill="#f46c10" fill-rule="evenodd" d="M128 119.5l3 0l1.5 1l0 2.5l-1.5 2l-2 0.5l-1.5 -1l-0.5 -3.5l1 -1.5zM176.5 121l1.5 0l0.5 0.5l-0.5 3l-1 1l-1.5 -0.5l-1 -1.5l0.5 -1.5l1.5 -1zM165.5 121.5l1.5 0l4.5 1.5l1 1l0 1l-3.5 2l-3.5 0.5l-1 -1l0 -2l0 -1.5l1 -1.5zM183 124.5l2.5 0l0 2l-1 1l-1.5 0.5l-3 -1l-2 0.5l2 -0.5l2.5 -2.5zM108.5 135.5l1.5 0l0 0.5l-0.5 2l-2 0.5l-1.5 -0.5l0 -1.5l2.5 -1zM98.5 141l1.5 0l0 1l-1.5 0l0 -1z"/><path fill="#ee4c10" fill-rule="evenodd" d="M128.5 120l2 0l1.5 0.5l0.5 2l-1.5 2l-2 0l-1 -1l-0.5 -2.5l1 -1zM177 122l0.5 1.5l-1 0.5l-0.5 -1l1 -1zM167 123.5l3.5 -0.5l1 1l0 1l-2.5 2l-3 0l-1 -1.5l2 -2zM183 125.5l1.5 0.5l-1 1.5l-1.5 -0.5l0.5 -1.5z"/><path fill="#e42e10" fill-rule="evenodd" d="M129.5 120.5l1.5 0l0.5 1l0 1.5l-1 1l-1 0l-1 -1.5l0 -1.5l0.5 -0.5zM169.5 124l1 0.5l-1 1.5l-2 0.5l-1.5 -0.5l1 -1.5l2 -0.5z"/></g>
</g>
<path d="M92.1 30.3V196.5M142.2 30.3V196.5M192.4 30.3V196.5M242.5 30.3V196.5M42 164.9H292.6M42 132.5H292.6M42 99.3H292.6M42 65.2H292.6" stroke="#888" stroke-width="0.6" stroke-dasharray="1.2 1.6" fill="none"/>
<g fill="none" stroke="#000" stroke-width="1.5" stroke-linejoin="round" clip-path="url(#ca)">
<path d="M112.2 198.5L111.2 195.4L107.2 195.9L102.1 193.3L98.1 192.8L102.1 189.7L108.2 187.6L111.7 186.6L110.2 182.9L105.2 179.7L111.2 178.2L108.2 175L102.1 170.2L100.6 167L98.1 161.7L95.6 154.2L92.1 151L87.1 148.8L84.1 145.6L85.1 142.3L87.1 139.1L90.1 135.8L93.1 133.1L95.1 132L99.1 129.2L101.1 127.6L107.2 124.8L112.2 122.6L117.2 122.6L118.7 119.3L117.2 117.1L113.2 116L108.2 116.6L103.1 113.8L99.1 112.7L95.1 114.9L91.1 118.2L86.1 120.4L82.1 118.8L81.1 114.9L83.1 112.7L80.1 109.4L74.1 108.2L69.1 104.9L68.1 101.5L69.1 98.2L72.1 97.1L77.1 98.2L82.1 97.1L85.1 94.8L88.1 89.2L94.1 86.9L98.1 83.5L102.1 79L108.2 77.8L114.2 81.2L115.2 83.5L111.2 88L107.2 92.6L105.2 94.8L108.2 97.1L106.2 99.3L104.6 100.6L106.7 101L109.2 99.9L113.2 98.2L117.2 94.8L122.2 92.6L127.2 90.9L133.2 89.7L136.2 88"/>
<path d="M136.2 88L140.2 91.4L143.2 92.6L146.2 94.8L145.2 99.3L142.2 102.7L144.2 104.3L141.2 107.1L139.2 109.4L143.2 112.1L147.3 113.2L150.3 111.6L153.3 113.2L156.3 112.7L158.3 114.9L158.3 118.2L160.3 121.5L157.3 122.1L154.3 123.7L156.3 125.9L157.3 129.2L158.3 132.5L159.3 134.7L157.3 136.9L156.3 141.2L155.8 144.5L155.3 147.7L157.3 151L160.3 148.8L164.3 147.7L167.3 145.6L170.3 146.7L173.3 144.5L177.3 145L180.3 142.9L183.3 142.3L185.3 140.2L186.8 137.4L187.3 133.6L187.8 132L186.3 131.4L186.8 127L186.3 121.5L184.3 117.1L181.3 112.7L178.3 108.2L175.8 103.8L171.3 99.3L167.3 97.1L167.3 92.6L169.3 90.3L175.3 88.6L179.3 85.8L185.3 81.2L189.4 78.4L190.4 73.3L192.4 67.5L195.4 62.9L199.4 60.6"/>
<path d="M199.4 60.6L201.4 58.3L204.4 57.2L207.4 53.7L211.4 52L215.4 50.2L219.4 54.3L224.4 57.2L231.5 54.9L238.5 50.2L245.5 44.4L252.5 38.6L260.5 30.4L267.5 23.3"/>
<path d="M136.2 88L141.2 82.9L147.3 79L152.3 75.5L157.3 69.8L163.3 71L169.3 71.6L174.3 69.8L173.3 65.8L178.3 65.2L184.3 64.1L189.4 60.1L193.4 56.6L196.4 58.3L199.4 60.6"/>
<path d="M199.4 60.6L198.4 58.3L201.4 54.9L204.4 51.4L204.4 46.7L205.4 40.9L202.4 36.2L203.4 31.5L210.4 28L214.4 25.6"/>
<path d="M291.6 71L293.6 72.1L296.6 69.8L299.6 67.5L304.6 67.5L302.6 61.8L297.6 58.3L295.6 61.8L292.6 61.8L290.6 58.3L295.6 53.7L297.6 50.2L305.6 51.4L308.6 43.2L309.6 36.2L308.6 26.8"/>
<path d="M201.4 154.2L202.4 149.9L206.4 148.8L212.4 144.5L218.4 140.2L224.4 137.4L232.5 137.4L240.5 136.3L245.5 135.3L250.5 137.4L253.5 133.1L259.5 123.7L260.5 117.7L265.5 116L262.5 123.2L267.5 122.1L275.6 118.8L281.6 112.7L286.6 108.2L288.6 101.5L291.6 93.7L289.6 88.6L292.6 84.6L292.6 80.1L295.6 73.8L299.6 75L304.6 74.4L307.6 82.4"/>
<path d="M201.4 154.2L207.4 154.2L212.4 155.3L215.4 152.1L222.4 150.4L228.4 148.8L234.5 146.7L239.5 146.7L244.5 147.2L246.5 147.7L243.5 151L243.5 155.3L246.5 158.5L250.5 160.1L254.5 155.3L258.5 152.1L261.5 150.4L260.5 146.1L263.5 146.7L266.5 146.7L274.6 147.7L280.6 147.2L280.6 142.3L284.6 140.2L288.6 142.3L290.6 144L290.6 139.1L292.6 136.3L296.6 139.1L300.6 135.8"/>
<path d="M213.4 30.9L216.4 33.9L220.4 35.1L223.4 32.7L222.4 29.2L217.4 26.8L213.4 29.2L213.4 30.9Z"/>
<path d="M153.8 161.7L155.3 160.1L158.3 159L161.8 159.8L160.8 161.7L157.3 162.6L153.8 161.7Z"/>
<path d="M190.4 162.2L193.4 159.6L196.4 158.5L199.4 155.3L202.4 154.7L204.4 158.5L209.4 158.5L211.4 162.8L211.4 167L208.4 172.3L206.4 179.7L204.4 182.9L200.4 186L198.4 183.4L194.4 183.4L194.4 179.7L195.4 175.5L198.4 171.3L194.4 168.1L192.4 169.2L189.4 167.6L190.4 164.9L190.4 162.2Z"/>
<path d="M212.4 160.6L216.4 164.9L217.4 167L221.4 167.6L224.4 161.7L229.4 159.6L234.5 161.7L239.5 156.4L238.5 152.1L232.5 150.4L227.4 149.9L223.4 152.1L219.4 155.3L216.4 158.5L212.4 160.6Z"/>
<path d="M184.3 153.1L186.8 151L185.8 146.7L184.3 147.7L184.3 153.1Z"/>
<path d="M287.1 64.7L288.1 62.9L287.1 62.4L286.6 64.1L287.1 64.7Z"/>
<path d="M274.6 112.7L277.6 109.4L277.6 107.1L275.6 108.8L274.6 112.7Z"/>
<path d="M91.1 184.5L93.1 181.3L96.1 180.8L98.1 183.4L96.1 186.6L93.1 186.6L91.1 184.5Z"/>
<path d="M84.1 168.1L85.6 164.9L87.1 166.5L86.1 168.6L84.1 168.1Z"/>
<path d="M178.3 169.2L180.8 168.1L183.3 164.9L181.8 163.3L179.8 166L178.3 169.2Z"/>
<path d="M188.9 157.4L190.2 156.9L189.9 155.8L188.9 156.4L188.9 157.4Z"/>
<path d="M42 196.7L50 195.9L57 191.8L63.1 188.7L69.1 184.5L75.1 179.7L79.1 174.5L84.1 172.3L90.1 172.1L95.1 175L101.1 176.4L106.2 177.4L111.2 178.5" stroke-width="1.6"/>
<circle cx="62" cy="182.9" r="0.8" fill="#000" stroke="none"/>
<circle cx="66.1" cy="180.3" r="0.9" fill="#000" stroke="none"/>
<circle cx="72.1" cy="177.6" r="0.7" fill="#000" stroke="none"/>
<circle cx="83.1" cy="176.6" r="0.8" fill="#000" stroke="none"/>
<circle cx="87.1" cy="179.7" r="0.7" fill="#000" stroke="none"/>
<circle cx="101.1" cy="186" r="0.7" fill="#000" stroke="none"/>
<circle cx="104.1" cy="182.9" r="0.6" fill="#000" stroke="none"/>
<circle cx="57" cy="186" r="0.6" fill="#000" stroke="none"/>
<circle cx="71.1" cy="171.3" r="0.6" fill="#000" stroke="none"/>
<circle cx="88.1" cy="188.1" r="0.6" fill="#000" stroke="none"/>
<circle cx="97.1" cy="189.2" r="0.6" fill="#000" stroke="none"/>
<circle cx="54" cy="189.2" r="0.6" fill="#000" stroke="none"/>
<circle cx="49" cy="191.3" r="0.5" fill="#000" stroke="none"/>
<circle cx="76.1" cy="187.1" r="0.5" fill="#000" stroke="none"/>
<path d="M71.1 164.9L75.1 162.2L79.1 160.1L82.1 161.2L80.6 163.8L77.1 165.4L74.1 166.5L71.1 164.9Z" fill="#000"/>
<ellipse cx="58" cy="50.8" rx="1.6" ry="1.1" fill="#000" stroke="none"/>
<ellipse cx="45.5" cy="84.6" rx="1.6" ry="1.1" fill="#000" stroke="none"/>
<ellipse cx="60.5" cy="81.8" rx="1.6" ry="1.1" fill="#000" stroke="none"/>
<ellipse cx="97.1" cy="53.7" rx="1.6" ry="1.1" fill="#000" stroke="none"/>
<ellipse cx="181" cy="43.2" rx="1.6" ry="1.1" fill="#000" stroke="none"/>
<ellipse cx="141" cy="51.4" rx="1.6" ry="1.1" fill="#000" stroke="none"/>
<ellipse cx="134.7" cy="58.9" rx="1.6" ry="1.1" fill="#000" stroke="none"/>
<ellipse cx="134" cy="67.5" rx="1.6" ry="1.1" fill="#000" stroke="none"/>
<path d="M156.1 132.4L156.3 133L156.8 135.2L155.2 134L155.6 136.3L157.3 136.5L156.7 137.3L156.1 138.9L156 137.8L155.7 138.9L156 141.4L156.1 140.9L154.9 143.1L156.2 142.7L155.8 142.4L155.6 142.9L154.7 143.9L154.7 144.1L155.6 146.9L153.7 147.2L155.5 147.3L154.6 148.3L154.6 148.4L154.5 148.3L155.3 147.9L155.9 148.2L156.6 148.4L156.4 150.9L157.1 149.2L158 150.1L158.2 150.9L159.2 149.8L158.6 151L160.7 148.4L159.6 148.7L161.1 150.3L161.5 148.4L163.6 150.1L163.7 149.8L164.7 148.9L165.8 147L165.6 146.7L165.8 148.8L167.3 148.8L167 147.7L168.7 148.2L168.1 146.2L169.4 145.8L171.5 147.1L171.2 146.6L172.4 146.3L172.9 146L174.5 146.2L174 145.5L174.3 146.4L176.8 145.7L176.4 146.8L176.8 145.1L176.6 144.7L178.8 145.8L179.5 144.4L180.3 144.4L181.1 143.1L181.3 143.4" stroke-width="1.6"/>
<path d="M159.5 112.7L159.6 112.8L159.3 113.4L157.6 115L159.2 115.1L158.8 116.9L157.7 117.1L158.1 117.1L157.3 118.7L158.1 117.9L159.3 120.3L159.6 121.1L159.5 121.8L157.7 120.5L157.5 122.4L158.5 121.3L156.5 121.4L156.4 122.4L155.2 122.2L156.3 122.9L156.9 125.1L156 126.1L155.7 127.1L156.2 126.6L155.8 127.2L156.7 128.8L157.9 129.3L157.2 130.1L158.2 131.9L159 132.7L158.8 131.8L157.1 132.6L157.7 133.8L156.8 135.7L157 134.4L156.8 135.6L158.1 135.9L156.8 137.9L157 137.7L156 138.5L157.2 139L155.5 139.6L155.5 141.6L156.3 141.2L155.6 142.1L155.9 144.4L155.2 145.6L154.6 146.5L155.3 146.7" stroke-width="1.5"/>
<circle cx="153.3" cy="119.3" r="0.7" fill="#000" stroke="none"/>
<circle cx="154.8" cy="126.5" r="0.6" fill="#000" stroke="none"/>
<circle cx="155.8" cy="130.3" r="0.6" fill="#000" stroke="none"/>
<circle cx="153.3" cy="135.3" r="0.5" fill="#000" stroke="none"/>
<circle cx="154.3" cy="143.4" r="0.8" fill="#000" stroke="none"/>
<circle cx="152.8" cy="146.7" r="0.8" fill="#000" stroke="none"/>
<circle cx="155.3" cy="150.4" r="0.9" fill="#000" stroke="none"/>
<circle cx="159.3" cy="150.4" r="0.8" fill="#000" stroke="none"/>
<circle cx="162.3" cy="149.4" r="0.8" fill="#000" stroke="none"/>
<circle cx="166.3" cy="148.8" r="0.8" fill="#000" stroke="none"/>
<circle cx="170.3" cy="147.7" r="0.9" fill="#000" stroke="none"/>
<circle cx="173.3" cy="146.1" r="0.8" fill="#000" stroke="none"/>
<circle cx="177.3" cy="146.1" r="0.8" fill="#000" stroke="none"/>
<circle cx="179.3" cy="144" r="0.6" fill="#000" stroke="none"/>
<circle cx="152.3" cy="149.4" r="0.6" fill="#000" stroke="none"/>
<circle cx="147.3" cy="151" r="0.5" fill="#000" stroke="none"/>
<circle cx="158.3" cy="152.1" r="0.6" fill="#000" stroke="none"/>
<circle cx="172.8" cy="148.3" r="0.5" fill="#000" stroke="none"/>
<circle cx="155.3" cy="114.4" r="0.7" fill="#000" stroke="none"/>
<circle cx="152.3" cy="152.1" r="0.6" fill="#000" stroke="none"/>
<circle cx="153.8" cy="153.7" r="0.5" fill="#000" stroke="none"/>
<circle cx="156.8" cy="152.6" r="0.6" fill="#000" stroke="none"/>
<circle cx="160.8" cy="151.5" r="0.6" fill="#000" stroke="none"/>
<circle cx="164.3" cy="150.4" r="0.6" fill="#000" stroke="none"/>
<circle cx="167.8" cy="149.9" r="0.6" fill="#000" stroke="none"/>
<circle cx="171.8" cy="149.4" r="0.5" fill="#000" stroke="none"/>
<circle cx="175.3" cy="147.7" r="0.6" fill="#000" stroke="none"/>
<circle cx="178.3" cy="146.7" r="0.5" fill="#000" stroke="none"/>
<circle cx="153.3" cy="145" r="0.5" fill="#000" stroke="none"/>
<circle cx="151.8" cy="143.4" r="0.4" fill="#000" stroke="none"/>
<circle cx="155.3" cy="146.1" r="0.5" fill="#000" stroke="none"/>
<circle cx="157.8" cy="148.3" r="0.5" fill="#000" stroke="none"/>
<circle cx="162.8" cy="148.3" r="0.5" fill="#000" stroke="none"/>
<circle cx="169.3" cy="146.1" r="0.5" fill="#000" stroke="none"/>
<circle cx="144.2" cy="153.1" r="0.4" fill="#000" stroke="none"/>
<circle cx="143.2" cy="147.7" r="0.4" fill="#000" stroke="none"/>
</g>
<rect x="52" y="98.8" width="160" height="76.2" fill="none" stroke="#777" stroke-width="0.8"/>
<rect x="152.2" y="110.5" width="40.2" height="22.2" fill="none" stroke="#c0303c" stroke-width="1.1"/>
<circle cx="167.4" cy="124.4" r="3.5" fill="#d83010" stroke="#000" stroke-width="1.5"/><circle cx="167.4" cy="124.4" r="1.4" fill="#a01008"/>
<rect x="42" y="30.3" width="250.6" height="166.2" fill="none" stroke="#111" stroke-width="1.4"/>
<path d="M42 30.3v-2.2M42 196.5v2.2M92.1 30.3v-2.2M92.1 196.5v2.2M142.2 30.3v-2.2M142.2 196.5v2.2M192.4 30.3v-2.2M192.4 196.5v2.2M242.5 30.3v-2.2M242.5 196.5v2.2M292.6 30.3v-2.2M292.6 196.5v2.2M42 196.5h-2.2M292.6 196.5h2.2M42 164.9h-2.2M292.6 164.9h2.2M42 132.5h-2.2M292.6 132.5h2.2M42 99.3h-2.2M292.6 99.3h2.2M42 65.2h-2.2M292.6 65.2h2.2M42 30.4h-2.2M292.6 30.4h2.2" stroke="#111" stroke-width="1.2"/>
<g font-family="Liberation Sans, Arial, sans-serif" font-size="10.3" fill="#222">
<text transform="translate(35.6 201.8) scale(1.1 1)" text-anchor="end">30<tspan font-size="6.6" dy="-4.6">O</tspan><tspan dy="4.6">N</tspan></text>
<text transform="translate(35.6 170.2) scale(1.1 1)" text-anchor="end">33<tspan font-size="6.6" dy="-4.6">O</tspan><tspan dy="4.6">N</tspan></text>
<text transform="translate(35.6 137.8) scale(1.1 1)" text-anchor="end">36<tspan font-size="6.6" dy="-4.6">O</tspan><tspan dy="4.6">N</tspan></text>
<text transform="translate(35.6 104.6) scale(1.1 1)" text-anchor="end">39<tspan font-size="6.6" dy="-4.6">O</tspan><tspan dy="4.6">N</tspan></text>
<text transform="translate(35.6 70.5) scale(1.1 1)" text-anchor="end">42<tspan font-size="6.6" dy="-4.6">O</tspan><tspan dy="4.6">N</tspan></text>
<text transform="translate(35.6 35.7) scale(1.1 1)" text-anchor="end">45<tspan font-size="6.6" dy="-4.6">O</tspan><tspan dy="4.6">N</tspan></text>
<text transform="translate(42.3 211.9) scale(1.1 1)" text-anchor="middle">115<tspan font-size="6.6" dy="-4.6">O</tspan><tspan dy="4.6">E</tspan></text>
<text transform="translate(92.4 211.9) scale(1.1 1)" text-anchor="middle">120<tspan font-size="6.6" dy="-4.6">O</tspan><tspan dy="4.6">E</tspan></text>
<text transform="translate(142.5 211.9) scale(1.1 1)" text-anchor="middle">125<tspan font-size="6.6" dy="-4.6">O</tspan><tspan dy="4.6">E</tspan></text>
<text transform="translate(192.7 211.9) scale(1.1 1)" text-anchor="middle">130<tspan font-size="6.6" dy="-4.6">O</tspan><tspan dy="4.6">E</tspan></text>
<text transform="translate(242.8 211.9) scale(1.1 1)" text-anchor="middle">135<tspan font-size="6.6" dy="-4.6">O</tspan><tspan dy="4.6">E</tspan></text>
<text transform="translate(292.9 211.9) scale(1.1 1)" text-anchor="middle">140<tspan font-size="6.6" dy="-4.6">O</tspan><tspan dy="4.6">E</tspan></text>
</g>
<g font-family="Liberation Serif, Times New Roman, serif" font-weight="bold" font-size="7.3" fill="#1a1a1a"><text x="208.2" y="92.3" textLength="26" lengthAdjust="spacingAndGlyphs">East Sea</text><text x="236" y="92.5" font-size="5">_</text><text x="119.2" y="156.2" textLength="32.8" lengthAdjust="spacingAndGlyphs">Yellow Sea</text></g>
<rect x="303.3" y="188.2" width="14.5" height="8.6" fill="#ffffff"/>
<rect x="303.3" y="179.9" width="14.5" height="8.6" fill="#5ec6f2"/>
<rect x="303.3" y="171.6" width="14.5" height="8.6" fill="#1c54e4"/>
<rect x="303.3" y="163.3" width="14.5" height="8.6" fill="#1f62c6"/>
<rect x="303.3" y="154.9" width="14.5" height="8.6" fill="#2a7a96"/>
<rect x="303.3" y="146.6" width="14.5" height="8.6" fill="#2f8c6e"/>
<rect x="303.3" y="138.3" width="14.5" height="8.6" fill="#3a9a3c"/>
<rect x="303.3" y="130" width="14.5" height="8.6" fill="#58a82e"/>
<rect x="303.3" y="121.7" width="14.5" height="8.6" fill="#8cbc2c"/>
<rect x="303.3" y="113.4" width="14.5" height="8.6" fill="#bcc42a"/>
<rect x="303.3" y="105.1" width="14.5" height="8.6" fill="#f2c41e"/>
<rect x="303.3" y="96.8" width="14.5" height="8.6" fill="#f8aa18"/>
<rect x="303.3" y="88.5" width="14.5" height="8.6" fill="#f88c12"/>
<rect x="303.3" y="80.2" width="14.5" height="8.6" fill="#f46c10"/>
<rect x="303.3" y="71.9" width="14.5" height="8.6" fill="#ee4c10"/>
<rect x="303.3" y="63.5" width="14.5" height="8.6" fill="#e42e10"/>
<rect x="303.3" y="55.2" width="14.5" height="8.6" fill="#d41e10"/>
<rect x="303.3" y="46.9" width="14.5" height="8.6" fill="#bc1010"/>
<rect x="303.3" y="38.6" width="14.5" height="8.6" fill="#a00808"/>
<rect x="303.3" y="30.3" width="14.5" height="8.6" fill="#7e0404"/>
<rect x="303.3" y="30.3" width="14.5" height="166.2" fill="none" stroke="#999" stroke-width="0.6"/>
<g font-family="Liberation Sans, Arial, sans-serif" font-weight="bold" font-size="9.3" fill="#222">
<text x="320.3" y="199.9">0</text>
<text x="320.3" y="172.2">50</text>
<text x="320.3" y="144.5">100</text>
<text x="320.3" y="116.8">150</text>
<text x="320.3" y="89.1">200</text>
<text x="320.3" y="61.4">250</text>
<text x="320.3" y="33.7">300</text>
</g>
<text x="79.5" y="22.3" font-family="Liberation Serif, Times New Roman, serif" font-weight="bold" font-size="17" fill="#111">(a)</text>
<path d="M40.9 349H57.9V369.2H74.8V373.2H91.8V372.8H108.8V375.6H125.7V337.4H142.7V268.4H159.6V257.4H176.6V293.4H193.6V328.4H210.5V359.4H227.5V379H244.5V377.8H261.4V379.2H278.4V379.3H295.3V378.5H312.3V366.6" fill="none" stroke="#2a6a3e" stroke-width="1.7"/>
<path d="M40.9 343.6H57.9V351.4H74.8V358.2H91.8V357.4H108.8V354.6H125.7V352.2H142.7V350H159.6V351H176.6V349.4H193.6V359.8H210.5V366.8H227.5V366.4H244.5V369.1H261.4V374H278.4V369.6H295.3V361H312.3V352.5" fill="none" stroke="#74182c" stroke-width="1.7"/>
<rect x="40.9" y="245.9" width="271.4" height="136.1" fill="none" stroke="#222" stroke-width="1.3"/>
<path d="M40.9 382v2.6M40.9 245.9v-2.6M57.9 382v2.6M57.9 245.9v-2.6M74.8 382v2.6M74.8 245.9v-2.6M91.8 382v2.6M91.8 245.9v-2.6M108.8 382v2.6M108.8 245.9v-2.6M125.7 382v2.6M125.7 245.9v-2.6M142.7 382v2.6M142.7 245.9v-2.6M159.6 382v2.6M159.6 245.9v-2.6M176.6 382v2.6M176.6 245.9v-2.6M193.6 382v2.6M193.6 245.9v-2.6M210.5 382v2.6M210.5 245.9v-2.6M227.5 382v2.6M227.5 245.9v-2.6M244.5 382v2.6M244.5 245.9v-2.6M261.4 382v2.6M261.4 245.9v-2.6M278.4 382v2.6M278.4 245.9v-2.6M295.3 382v2.6M295.3 245.9v-2.6M312.3 382v2.6M312.3 245.9v-2.6M40.9 382h-2.8M312.3 382h2.8M40.9 359.3h-2.8M312.3 359.3h2.8M40.9 336.6h-2.8M312.3 336.6h2.8M40.9 313.9h-2.8M312.3 313.9h2.8M40.9 291.3h-2.8M312.3 291.3h2.8M40.9 268.6h-2.8M312.3 268.6h2.8M40.9 245.9h-2.8M312.3 245.9h2.8" stroke="#222" stroke-width="1.1"/>
<g font-family="Liberation Sans, Arial, sans-serif" font-weight="bold" font-size="8" fill="#111" stroke="#111" stroke-width="0.15">
<text x="34.2" y="384.9" text-anchor="end">0</text>
<text x="34.2" y="362.2" text-anchor="end">5</text>
<text x="34.2" y="339.5" text-anchor="end">10</text>
<text x="34.2" y="316.8" text-anchor="end">15</text>
<text x="34.2" y="294.2" text-anchor="end">20</text>
<text x="34.2" y="271.5" text-anchor="end">25</text>
<text x="34.2" y="248.8" text-anchor="end">30</text>
<text x="40.9" y="396.8" text-anchor="middle">00Z</text>
<text x="57.9" y="396.8" text-anchor="middle">03Z</text>
<text x="74.8" y="396.8" text-anchor="middle">06Z</text>
<text x="91.8" y="396.8" text-anchor="middle">09Z</text>
<text x="108.8" y="396.8" text-anchor="middle">12Z</text>
<text x="125.7" y="396.8" text-anchor="middle">15Z</text>
<text x="142.7" y="396.8" text-anchor="middle">18Z</text>
<text x="159.6" y="396.8" text-anchor="middle">21Z</text>
<text x="176.6" y="396.8" text-anchor="middle">00Z</text>
<text x="193.6" y="396.8" text-anchor="middle">03Z</text>
<text x="210.5" y="396.8" text-anchor="middle">06Z</text>
<text x="227.5" y="396.8" text-anchor="middle">09Z</text>
<text x="244.5" y="396.8" text-anchor="middle">12Z</text>
<text x="261.4" y="396.8" text-anchor="middle">15Z</text>
<text x="278.4" y="396.8" text-anchor="middle">18Z</text>
<text x="295.3" y="396.8" text-anchor="middle">21Z</text>
<text x="312.3" y="396.8" text-anchor="middle">00Z</text>
<text x="32" y="406.7">15JUL</text><text x="32" y="416.7">2017</text>
<text x="176.6" y="405.5" text-anchor="middle">16JUL</text>
<text x="179.5" y="418.6" text-anchor="middle" font-size="9">Time (UTC)</text>
<text transform="translate(20.4 313.3) rotate(-90)" text-anchor="middle" font-size="9.2">Rainfall (mm/3hr)</text>
</g>
<path d="M192.1 257.8H216.4" stroke="#2a6a3e" stroke-width="1.7"/><path d="M192.1 266.5H216.4" stroke="#74182c" stroke-width="1.7"/>
<g font-family="Liberation Sans, Arial, sans-serif" font-weight="bold" font-size="6.9" fill="#222"><text x="218.8" y="260.3" textLength="83.2" lengthAdjust="spacingAndGlyphs">Precipitation Core (TRMM)</text><text x="218.8" y="269" textLength="84.4" lengthAdjust="spacingAndGlyphs">Precipitation Band (TRMM)</text></g>
<text x="76.8" y="233.2" font-family="Liberation Serif, Times New Roman, serif" font-weight="bold" font-size="16.5" fill="#111">(b)</text>
<path d="M356 29.5H540.5V206H367" fill="none" stroke="#d8d8d8" stroke-width="0.7"/><path d="M442.7 43.5L450.0 37.0L457.0 33.5L466.0 31.3L480.0 30.5L495.0 30.6L505.0 31.5L515.5 35.3L521.0 40.0L524.5 46.0L526.4 55.0L527.5 62.0L527.5 150.0L521.0 163.0L513.0 176.0L503.0 188.0L493.0 196.0L482.0 201.5L470.0 203.0L461.0 202.5L450.0 201.5L441.6 199.8L431.0 196.0L422.0 191.0L415.0 185.5L409.6 179.0L405.0 172.5L401.5 165.0L399.0 156.0L398.5 146.0L399.0 136.0L400.5 126.0L402.5 117.0L397.0 116.0L392.5 115.0L386.0 112.5L381.3 109.5L377.0 104.5L373.8 98.2L372.2 91.0L371.9 83.2L372.2 75.0L372.8 67.2L376.0 62.5L381.3 57.5L387.0 53.0L394.0 47.0L401.0 43.0L409.0 40.0L417.0 38.2L425.4 37.4L432.0 38.2L438.0 40.5Z" fill="#f0f0f0" stroke="#f0f0f0" stroke-width="1.5" stroke-linejoin="round"/><g clip-path="url(#cc)"><path fill="#f8f0ac" fill-rule="evenodd" d="M423 66l3 0l3.5 0.5l2.5 1.5l0 1.5l-0.5 1l-1.5 1l-4.5 0.5l-5 -0.5l-2.5 -1.5l0 -1l0.5 -1.5l4.5 -1.5zM453.5 67l3 0l14 1.5l12 4l6.5 1l3.5 0l2 -1.5l2.5 0.5l1.5 0.5l1 1.5l1 0.5l13 1.5l12 0l1 1l0.5 5.5l0 9l-0.5 4.5l-1 1l-9 1l-11 -2l-5.5 0l-3 0l-7.5 1l-4.5 1.5l2.5 2l0.5 2.5l0 1.5l-1 2l-3.5 2.5l-3.5 1l-3 0l-3 2l-3 1l-5 -1l-2 -2l-0.5 -1l1 -1l3.5 -2l-0.5 -1.5l-1 -0.5l-8 0l-3 4l-2.5 1.5l-2.5 0l-3 -2.5l-5.5 4l-4 0l-4 -2.5l-2 -3l-0.5 -2l0.5 -2l2.5 -4l0 -0.5l-2.5 0l-2 1l-3.5 0l-6.5 -2l-1 2.5l-0.5 7l-4 7.5l-1.5 1l-5 -2l-1.5 -4l-2 -6.5l0.5 -5.5l1 -3.5l8.5 -1.5l1 0.5l4 3.5l1 -2l2.5 -1.5l3 -0.5l4.5 0l-1.5 -4l0.5 -12l1 -2l9.5 -5l13.5 -1.5zM372 67.5l1 -0.5l7.5 2.5l10.5 3.5l12.5 2.5l3 2l1.5 1.5l0 1l-3 8.5l-3 7.5l-3.5 0.5l-5 0.5l-3 0.5l-5.5 -1.5l-5 -1.5l-4 -2l-2.5 -2l-2 -6l-0.5 -4.5l0.5 -5l0.5 -3.5l0 -4zM420 74l2 -0.5l2 2l1.5 3.5l-1 3l-3 2.5l-1.5 0l-2 -1.5l-1.5 -3.5l1 -3.5l2 -2zM385 106.5l1 0.5l0.5 1l-0.5 1l-1 0.5l-1 -0.5l-0.5 -1l0.5 -1l1 -0.5zM424 107l4.5 1l2 1l1 2.5l0.5 2l-1.5 4l1.5 1.5l0.5 1l-0.5 1l-1.5 1l-1 0l-1.5 -1l-0.5 -2l-3.5 0l-2.5 -1l-2 -1.5l-1.5 -2.5l0 -1.5l1.5 -3l4.5 -2.5zM499 110.5l1.5 -0.5l1.5 1l0 1.5l-1 1l-1.5 0l-1 -0.5l0 -1.5l0.5 -1zM394.5 116l1 0l0.5 0.5l0 1l-0.5 0.5l-1.5 -0.5l0 -1l0.5 -0.5zM405 120l8.5 0l4.5 2l0.5 2l-1 1.5l-4 1.5l-5 0l-4.5 -2.5l-0.5 -3l1.5 -1.5zM469.5 123l1.5 0l1 1.5l0 1l-1.5 1.5l-1.5 -0.5l-1 -1l0 -1l1 -1.5zM438.5 126l2 0l2 0.5l0.5 1.5l0 1l-2.5 1.5l-3 -1l-0.5 -1l0 -1l1.5 -1.5zM455.5 130.5l1 0l1 1l0 1.5l-1 0.5l-1.5 0l-1 -1l0 -1l1.5 -1zM445 139.5l1.5 -0.5l1 1l0 1.5l-1 1.5l-1 0l-1 -1.5l0.5 -2zM443 144l2 0l2 2l0 2l-2 2l-2 0l-2 -2l0 -2l1.5 -1.5z"/><path fill="#f2e25a" fill-rule="evenodd" d="M422.5 67l2 0l2 1l2.5 -0.5l2 1l0.5 0.5l-0.5 0.5l-2 1l-2 0l-2 0.5l-4 -0.5l-2 -1l0 -1l3.5 -1.5zM455.5 68l4.5 0.5l2 1.5l1 0l1.5 -1l2 0.5l1 0.5l2.5 -0.5l3.5 1l1.5 1l4.5 0.5l3 1.5l5 1l3.5 0l4 1.5l3 -0.5l2.5 0.5l5 1l0.5 0l-1 1l0 1l1.5 1l2 -0.5l-1 -1.5l0.5 -0.5l0.5 0l1.5 0l1.5 1l3 -1l3.5 0l1.5 0l2.5 0.5l2.5 0l0.5 0.5l0 2.5l1 1.5l0.5 1.5l0 8l-1 2.5l0 1.5l-0.5 0.5l-1.5 0l-7 1l-3.5 -1.5l-2 0.5l-3.5 -1l-1 -1.5l-0.5 0l-5.5 1.5l-1.5 0l-1.5 -1l-4.5 1.5l-1 -1l-1.5 0l-2.5 2l-2.5 0.5l-2.5 -0.5l-1 1l1 2.5l2 0l1 0.5l0.5 1l0.5 1.5l-1 1l0.5 1.5l-0.5 1l-6 2.5l-2.5 0l-3 1l-1.5 -1l-1.5 0.5l-2 -2.5l0.5 -2l-2.5 -2l-3 -0.5l-1 -1l-2 1l-3 0l-1 1l-1 2.5l-2 2l-1.5 1l-2.5 -0.5l-2 -1.5l-1.5 -0.5l-2 0.5l-2 2l-1.5 0.5l-1 -0.5l0.5 -2.5l-1 -1l-1 1l1 2.5l-1 1l-1 0l-1.5 -1l-2.5 -2l-1.5 -3.5l0.5 -2l1.5 -2l1 -0.5l1.5 0.5l0.5 -1l-3 -3.5l1.5 -1.5l0 -1l-0.5 -1l-0.5 0.5l-2 3.5l-1 0l-1 -2.5l1 -1.5l-2 -2.5l0 -1.5l1 -4l0 -5.5l1 -2l-0.5 -2.5l4.5 -2.5l3.5 0.5l3 -1l2 -1.5l1.5 0l2 -1l6 0.5l0 -0.5l1 -0.5zM431.5 79.5l0 1l0.5 1l0.5 -0.5l0 -0.5l-0.5 -1.5zM494 93l-0.5 1l1.5 -0.5l0 -0.5l-1 0zM482.5 93.5l0.5 1.5l1 0.5l0.5 -1.5l-0.5 -0.5l-1 -0.5zM480.5 95.5l-0.5 1l0 2l0.5 -0.5l0.5 -1.5l0 -1l-0.5 0zM442 99l-0.5 3l0.5 1l2 0.5l-0.5 2.5l1 0l1 -1l-0.5 -1l-1 -0.5l0.5 -1l1.5 -2.5l-4 -1.5zM473.5 107l-0.5 0.5l1 1l1 0l1 0l0 -1l-0.5 -0.5l-2 0zM373 73.5l2.5 0.5l1.5 1l1.5 0l1 0l2.5 3l0.5 2.5l2 1.5l3.5 -0.5l4 1l-1 -2l0.5 -2.5l0.5 -0.5l0.5 0.5l-0.5 1.5l2 2l0 1l2 1.5l0 0.5l-2.5 1.5l-5 0l-4.5 -1l-2 4l-2.5 0l-1 2.5l-0.5 0.5l-1 0l-2.5 -3l-2 -4.5l-0.5 -8.5l1 -2.5zM420.5 75.5l1 0l2 1l1.5 3l-1 1.5l-3.5 2.5l-1 -0.5l-0.5 -1l0.5 -1l0 -3.5l1 -2zM397.5 79l2 1l1.5 3l-0.5 1l-1 0.5l-2 -1l-1 0.5l1 -2l-0.5 -2.5zM381 91l0.5 0l0 0.5l-0.5 0l0 -0.5zM389 92l4 -0.5l2.5 0.5l1 1l0 1l-1 1l-4.5 0.5l-2 -1l-1 -1l0 -1l0.5 -0.5zM414 92.5l1.5 0.5l2.5 2l1 2l-1.5 4.5l-1.5 -1.5l-2.5 -1l-3.5 0l0 1l1 1.5l0.5 2l1 0l1 -3l1 0l0.5 1l0 2l1 1.5l1 0.5l-1.5 3.5l-0.5 2l-1.5 2l-0.5 0.5l-2.5 -1l-1.5 -1l-1.5 -3l-2 -7.5l0.5 -4.5l0.5 -2.5l3 -0.5l4 -1zM408.5 96.5l0.5 0.5l0.5 -0.5l0 -0.5l-0.5 0zM426.5 92.5l3.5 0.5l-1 1.5l1.5 2l-0.5 0.5l-3.5 0l-1.5 -0.5l1 -1l0 -2.5l0.5 -0.5zM422 94.5l1 0l0 1.5l-1 -0.5l-0.5 -0.5l0.5 -0.5zM423.5 108.5l1 0l1 1.5l2 -1.5l2 1.5l1 4.5l-0.5 1l-1 1l-3 1l-2.5 0l-3 -1.5l-1 -3l0.5 -2.5l1 -1l2.5 -1zM424.5 114.5l0 0.5l0.5 0.5l1 0l0 -1l-1 0zM430 119.5l0.5 0l0 0.5l-0.5 0l0 -0.5zM405 120.5l1 0l1.5 0.5l2 0l1 0.5l-1.5 2.5l0 1.5l-0.5 0l-1.5 -1l-1.5 0l-1 -1l-0.5 -1.5l1 -1.5zM412.5 121.5l1.5 0.5l1 2.5l-0.5 0.5l-1.5 0.5l-1.5 -1l0.5 -3zM443.5 145l2 0.5l1 1.5l-1 1.5l-1.5 0.5l-1.5 -0.5l-0.5 -1.5l0.5 -1.5l1 -0.5z"/><path fill="#e6cf48" fill-rule="evenodd" d="M448 70.5l9.5 0l4.5 1l2 0l2.5 0.5l4 0l3.5 2l5 2l2.5 1.5l3 1l2 -0.5l2 1l5.5 0.5l2 1l4.5 -1l2 1l10.5 0l4 1l2.5 -0.5l1.5 0.5l2.5 0.5l2 0.5l0.5 1l0 8.5l-1 1.5l-4 1l-2 -0.5l-2.5 0.5l-1.5 -1l-4.5 0.5l-3.5 -1l-10 -1.5l-3 0.5l-3.5 1.5l-4 0l-4 -1l-1.5 0.5l-2.5 3l-2 0.5l-2.5 2.5l-4 0.5l-2.5 1l-3.5 0.5l-2.5 0.5l-3.5 -0.5l-0.5 0.5l-0.5 2l-1 3l-2.5 2.5l-2.5 0l-4 -3l0 -2l-0.5 -1.5l0.5 -2l-0.5 -1l-4.5 -2.5l-4 -1.5l-2 -4.5l-1 -0.5l-2 1l-2 -1.5l-0.5 -1.5l0.5 -2.5l2 -2l0.5 -3.5l-0.5 -3l1 -1.5l4 -2.5l9.5 -3zM376 77.5l1.5 0.5l-1.5 1.5l0.5 0.5l2.5 2l1 2.5l-0.5 1l-1.5 1l-1.5 1.5l-1 0l-1 -2.5l-1 -1l-0.5 -2.5l0.5 -3l1.5 0l0.5 -1.5zM386.5 82.5l2.5 0l4.5 2l-0.5 0.5l-4 0l-4.5 -1.5l1.5 -1zM390 92.5l3 0l2 0.5l0.5 0.5l-0.5 0.5l-3.5 0.5l-2.5 -1l0 -0.5l1 -0.5zM414.5 95l2 -0.5l2 1.5l0 1.5l-1 1.5l-1 0l-3 -1.5l-0.5 -1l1.5 -1.5zM421.5 110l2 0l1 1l0 1l-1 1l-1.5 -0.5l-1 -1l0 -1zM405 121l1 0l0.5 0.5l0 1l-0.5 0.5l-1 0l-0.5 -0.5l0.5 -1.5z"/><path fill="#a8dc80" fill-rule="evenodd" d="M449 71l8.5 0l2.5 0.5l1 1.5l3 -1l2.5 0.5l4 0l2.5 2l0 2l1 1.5l2.5 0.5l-0.5 -2.5l2.5 0l2.5 2l3 1l0.5 1l-0.5 1.5l0.5 0.5l1 -1l0.5 -1.5l0.5 -0.5l7 1l2 2l2 -1l3 -0.5l2.5 1l10.5 0l2 0.5l1.5 2l1 0l1.5 -0.5l2 2l1 -1l-1 -1.5l2 -0.5l2 1l0.5 4.5l-0.5 4l-1 1l-3.5 0.5l-4 -0.5l-2 -0.5l-1.5 0.5l-3 0l-3 -1l-3 0.5l-7.5 -1.5l-3 0l-2 1.5l-2.5 0.5l-3.5 0l-2 -1l-1.5 -0.5l-2.5 1.5l-2 2.5l-2 0l-1 2l-1.5 1l-4 0l-2.5 1.5l-2.5 0l-3 1l-4 -0.5l-1 1l-0.5 4l-2.5 2.5l-2 0.5l-3.5 -3l0.5 -1.5l-1 -1.5l0 -1l1 -0.5l-0.5 -1l-2 -1.5l-2 -1l-1.5 -1l-3.5 -1.5l-1.5 -1l0 -2.5l2.5 -1l0 -1.5l-1 0l-1.5 2l-3 -1.5l-2 0.5l-1 -0.5l-0.5 -1l0.5 -1l1.5 1l0.5 -0.5l0 -2.5l0.5 -5l-0.5 -3l0.5 -1l4 -2.5l2.5 -1l3 0l3 -1.5l2.5 -0.5zM511 83.5l-1 2l1.5 1l1 -1l0.5 -1.5l-0.5 -1l-1 0.5zM449 101.5l0 2l0.5 0l1 -0.5l0.5 -1l-2 -1zM519 82.5l1 0l0.5 0.5l-1 0l-0.5 -0.5zM387 83l2 0l2 1l0 0.5l-3 0l-1.5 -1l0.5 -0.5zM415.5 95.5l2 0.5l0.5 1l-0.5 0.5l-1 0.5l-1.5 -1l-0.5 -0.5l0.5 -1zM405.5 121.5l0.5 0.5l-0.5 0.5l-0.5 -0.5l0 -0.5z"/><path fill="#4cbc46" fill-rule="evenodd" d="M453.5 71.5l1.5 0.5l0.5 1l0 -1l0.5 -0.5l2.5 0l1 0.5l0.5 2.5l2.5 -0.5l1.5 -1.5l3 1l3.5 0l0.5 0.5l-0.5 1l0.5 0.5l2 3l2.5 1l1.5 1.5l3 1l1.5 -0.5l-0.5 -2l0 -0.5l2 0l0.5 0.5l-0.5 1l-1.5 1l1.5 1.5l2 0.5l1 0l1 -2.5l2.5 -1l3.5 1.5l1 3l1 0.5l1.5 -0.5l0 -1.5l1 -0.5l1.5 0.5l2.5 -0.5l3 0.5l2.5 -1.5l2.5 0.5l1 0.5l-2.5 3l2 2.5l0 1.5l-1 0.5l-1.5 -0.5l-1 2l-1 0.5l-4 -1l-3 -1.5l-2 0.5l-2.5 0.5l-2.5 1.5l-2.5 0.5l-1.5 -1l0.5 -1.5l-1.5 -1l1.5 -1.5l2 1l1 -1l0 -0.5l-4 -1.5l-2.5 1.5l-0.5 1.5l-1.5 0.5l0 2l-2 1l-1 -0.5l0.5 -2.5l-1 -0.5l-1 0l-2 2.5l0 2.5l-1 1l0 2l-1 1l-2.5 0.5l-2 -0.5l-2.5 2l-2.5 0l-3 1l-3.5 -1l-2 1l-1.5 0l-1 1l1.5 3l-1.5 1l-1 0.5l0 -4.5l-1 -2l-4 -0.5l-2 -2l0 -1l-0.5 -1.5l-1 0l-2 0.5l-2 0l-1.5 -1l0 -1.5l2 -2l0.5 -1l-1 -1.5l-1.5 -0.5l1 -3l0 -1l-1 -0.5l-2.5 3.5l-0.5 0.5l-0.5 -0.5l-0.5 -1.5l0.5 -5.5l-0.5 -2l4 -3l1.5 0l0 2l1 0.5l1.5 -2.5l4 -0.5l2.5 -2.5l4.5 0zM504.5 85.5l0 2.5l0.5 0.5l0.5 0l1 -2.5l-1.5 -0.5zM478 76.5l1 0.5l1.5 2l-1 0.5l-1 -0.5l-1 -2zM514 82.5l0.5 0l-0.5 0zM388 83.5l1.5 0.5l-1 0l-0.5 -0.5zM514.5 84.5l2 1l2.5 -0.5l1 0.5l0 6.5l-3 0.5l-2.5 -1.5l-1.5 -0.5l-1.5 -1l0 -1.5l3 -3.5zM525 84.5l0.5 4l0 2.5l-0.5 1l-0.5 0l-0.5 -0.5l-0.5 -4l1 -3zM486.5 89.5l0.5 1.5l-1 0.5l-0.5 -0.5l0.5 -1z"/><path fill="#2aa03a" fill-rule="evenodd" d="M457 72l1 0l0.5 0.5l0.5 4l0.5 0l1.5 -1.5l3.5 -1.5l2 2l3.5 0.5l3 3.5l2 0.5l0.5 2l1.5 0.5l0 1l-0.5 4.5l-2.5 6l0 2.5l-3.5 0l-2.5 1l-1.5 1.5l-2 0l-3.5 1l-3 -1l-3 0.5l-2.5 -1.5l-4 0l-2 -2.5l-0.5 -1.5l-4 -1.5l-1 0l-1 1.5l-0.5 0l-0.5 -0.5l2 -2l0.5 -2l-1.5 -3.5l0.5 -1l1 -0.5l0.5 -1l-3 -2.5l1 -3l1.5 -0.5l1.5 -2l3.5 -0.5l2.5 -1.5l3 0.5l2 -0.5l1.5 0.5l1 -0.5l0.5 -1.5zM443 80.5l0 1.5l1 0.5l0.5 -1.5l-0.5 -0.5l-1 0zM447.5 91l-0.5 0.5l0 1l1 -1.5l-0.5 0zM468.5 92.5l-1 0.5l-0.5 0.5l0.5 0.5l2 -0.5l0 -0.5l-1 -0.5zM463 94l0 1.5l0.5 0.5l1 0l0.5 -1l-1.5 -1zM438 75.5l0.5 0l-0.5 0zM487.5 82l1 0l1.5 1l1.5 -1l1 0.5l0.5 1l0 1.5l-1 0.5l-2.5 0l-2.5 -2l0.5 -1.5zM507 82.5l1 -0.5l1 0.5l0 0.5l-1.5 1l-0.5 -0.5l0 -1zM501.5 83.5l1.5 0l1 1l-0.5 3l-1 1l-1.5 0.5l-3 -1l-1 1l-1 0.5l-2 -1l-2.5 2l-0.5 0l0.5 -1l2.5 -1.5l1 -1.5l2 -1l1 -1.5l1.5 0l2 -0.5zM435.5 84l0.5 -0.5l0 1l-0.5 0l0 -0.5zM483 84.5l2 0l0.5 1l-2.5 1l-0.5 -2zM479 84.5l1 0.5l-0.5 0.5l-0.5 0l-0.5 -0.5zM514.5 86l1 1l2 -0.5l1 0.5l0.5 1l-0.5 1.5l-3 1l-3 -1l-0.5 -1l0.5 -0.5l1.5 -1l0.5 -1zM480.5 87l2 0l-1.5 1.5l-1 -1l0.5 -0.5zM481 90l0 1l-0.5 0l0 -0.5l0.5 -0.5zM505 90.5l0.5 0l0 0.5l-0.5 0l0 -0.5z"/><path fill="#8ad0f0" fill-rule="evenodd" d="M457.5 74l0.5 0l0 2.5l1 1l1 -0.5l1.5 -1.5l3 -1l0.5 1l0.5 2l1 0.5l3 2l2 -1l0.5 1l-0.5 1.5l0 0.5l2.5 0l2.5 1.5l-0.5 4l-1.5 3l-0.5 0.5l-1.5 0l-0.5 0.5l0 1l1.5 0l-1.5 2.5l-1 0l-1 -2.5l-1 -1l-2.5 1l-1 1l-1 0l-1 -1.5l-0.5 0l-1 2.5l0.5 1.5l1 0.5l3 0l0 1l-0.5 1l-5.5 0.5l-5.5 -0.5l-1.5 -1l1 -1.5l-1.5 -2l-1.5 1l1 2l-1 0.5l-2 0l-2.5 -2.5l2.5 -3l0 -1.5l-0.5 -1.5l-3 1.5l-1 2l-2 -1l-1 -0.5l0.5 -1.5l1 -0.5l0.5 -1.5l-1.5 -1l-1.5 0.5l-0.5 -1l1.5 -0.5l1 -2l2 -1l0 -1.5l-0.5 -1l-2 -1l-0.5 2.5l-1 0l-1 -1.5l0.5 -1.5l1.5 -0.5l1.5 -2l3.5 -0.5l2 -1.5l2.5 0.5l2.5 -0.5l2 1l1 -1zM467.5 85.5l0 4l0.5 0l1 -3l-0.5 -1l-0.5 -0.5l-0.5 0.5zM491.5 83l1 0.5l0 1l-1.5 0l0 -1zM501 84.5l1 -0.5l1 0.5l-0.5 2l-0.5 0l-1.5 -1l0.5 -1zM498.5 85.5l1.5 0.5l0.5 1l-0.5 0.5l-1.5 -0.5l-0.5 -1l0.5 -0.5zM517 87.5l0.5 0l0.5 0.5l-0.5 0.5l-1 0l0 -0.5zM513.5 89l1 0l0 0.5l-1 -0.5z"/><path fill="#58b4e4" fill-rule="evenodd" d="M452 75l2.5 0l2.5 2l0.5 1l2.5 0.5l0.5 0.5l-0.5 1l-0.5 0.5l-1.5 -0.5l-1 -1.5l-2 -0.5l-1 1l-2 0l-0.5 0.5l3.5 3l2 -0.5l1 0.5l0.5 1l-0.5 1l0.5 1l1 -0.5l0.5 -2l1.5 -1l1 0l1.5 2l3 0l-0.5 4l-0.5 1.5l-1.5 1l-2 -1.5l-1.5 0.5l1 2.5l-0.5 4l-2 2l-1 -0.5l-1.5 0.5l-1.5 0l-0.5 -0.5l1 -2l-0.5 -1l-1.5 -1l-3 0l-0.5 -1l0 -2l-1 -2l-1 -0.5l-1.5 1l-1 0l-1 -1.5l-2 -2l0.5 -1.5l2 -1.5l0.5 -3l2 -0.5l1 -1l0 -1.5l1.5 0l1.5 -1.5zM461.5 85.5l-1 1.5l0.5 0.5l1 -1l0.5 -1l-0.5 -0.5l-0.5 0.5zM463 75.5l1 0l0.5 0.5l-1 1.5l1.5 1.5l0 1l-0.5 0.5l-2 0l-1.5 -2.5l0 -1.5l1.5 -1zM467 80l1.5 0.5l0 1l-1.5 -0.5l0 -0.5zM468.5 82l2 0.5l1.5 1l2.5 -0.5l1.5 1l-1 3.5l-4 4l-1 -0.5l-1 -1l0 -2l0.5 -2l-2 -2l0.5 -1.5zM471.5 84.5l-0.5 1.5l1 2l1 1l0.5 -3.5l-1 -1.5l-1 0.5zM448.5 94.5l1 0.5l2 2l-1.5 0l-1 0l-1.5 -1.5l0 -0.5l1 -0.5zM463.5 97.5l0.5 0l-0.5 0.5l-0.5 -0.5z"/><path fill="#4a8ad4" fill-rule="evenodd" d="M452.5 75.5l1 -0.5l1 0.5l0.5 0.5l0 1l-3 1l0 -0.5l0 -2zM450 78.5l1 1.5l3 2.5l2.5 1l1 2.5l2 2l0 2l1.5 1.5l0.5 1l-0.5 3l-1 1l-3 0l-0.5 -2l-1.5 -1.5l-3.5 -0.5l-0.5 -2l-1.5 -2.5l-1 -0.5l-2 1l-3 -3l0 -1l2.5 -1.5l0.5 -2.5l3 -2zM447 83.5l1 1l1 0l-1.5 -1zM455.5 88l-1.5 1l-0.5 0.5l1.5 -0.5l2.5 1l0 -2l-0.5 -0.5l-1 0.5zM463 79l1 0l0 0.5l-0.5 0.5l-1 -0.5l0 -0.5zM461.5 83l0.5 0l0 0.5l-0.5 0l0 -0.5zM469 83l1 0l1 0.5l-1 1.5l-1.5 -1l0.5 -1zM464 84.5l2 0l0.5 1l-0.5 3l-1.5 1l-2.5 -1.5l2 -3.5zM470 87.5l1 0l0.5 1.5l-0.5 1.5l-1 0l-0.5 -1l0.5 -2z"/><path fill="#7a64cc" fill-rule="evenodd" d="M453.5 75.5l1 0.5l-1 1l-1 -0.5l0 -0.5l1 -0.5zM449.5 79.5l3 2l1 2l2 0.5l1 1l0.5 1.5l-1.5 1l-2 0.5l-0.5 2.5l0.5 1l2 -1.5l2 1l0.5 1l0.5 1.5l1.5 1.5l-0.5 1l-2 -0.5l-0.5 -1.5l-3 -2.5l-1 0.5l-1 0l-0.5 -1.5l-2 -3.5l-1 -0.5l-1.5 1l-2.5 -2l0.5 -1l1.5 -0.5l1.5 1.5l5 2l0 -1l-1.5 -2l-1.5 0l-3 -2.5l0.5 -1.5l2 -1zM469.5 83.5l0.5 0l0 1l-1 -0.5l0 -0.5zM464 85l1.5 0l0.5 0.5l0 2.5l-1.5 1l-1.5 -1l0.5 -2l0.5 -1zM470.5 88.5l0.5 1l-0.5 0.5l-0.5 -0.5l0 -1zM460 91.5l1 0.5l-0.5 1.5l-1 -0.5l0 -1.5z"/><path fill="#7a48cc" fill-rule="evenodd" d="M448.5 80.5l1 -0.5l2.5 2l0.5 0.5l0 1l-2 0.5l-2.5 -1.5l-0.5 -1l1 -1zM454.5 84.5l1 0l1 1l0 1l-1 0.5l-1 0l-0.5 -0.5l-0.5 -1l0.5 -1zM446 85l0.5 0.5l0 0.5l-1 -0.5l0.5 -0.5zM464.5 85l1 0.5l0 0.5l0 1.5l-0.5 1l-1.5 -0.5l0.5 -2.5zM451 87.5l1.5 0.5l-0.5 1.5l-1 -0.5l-0.5 -1zM455 91l2 0l0.5 1l0 1l-0.5 0l-1 -0.5l-1 -1.5z"/><path fill="#5c24ac" fill-rule="evenodd" d="M449 81l2.5 1l0.5 1l-1 0.5l-1 0l-2 -1.5l0 -0.5l0.5 -0.5zM455 85l1 0.5l-0.5 1l-1 -0.5l0 -1zM464.5 85.5l0.5 0l0.5 1.5l-0.5 1l-0.5 0l0 -2zM451.5 88.5l0 0.5l0 -0.5zM456 91.5l1 0.5l0 0.5l-0.5 0l-0.5 -1z"/></g><g fill="none" stroke="#222" stroke-width="0.75" stroke-linejoin="round" clip-path="url(#cc)"><path d="M366.9 230.1L365.5 224.1L358.6 224.7L350.4 219.3L343.7 217.9L350.9 212.5L361.2 209.2L367.2 207.5L365 200.5L357 194.2L367.1 191.8L362.5 185.7L353.1 176.4L351 170.4L347.6 160.5L344.5 146.6L339.4 140.5L331.7 136L327.4 129.8L329.5 124.2L333.1 118.7L338.3 113.3L343.3 108.8L346.5 107.1L353.1 102.7L356.3 100.1L365.9 95.8L373.8 92.4L381.4 92.8L384 87.1L381.8 83.2L375.9 81L368.2 81.5L360.9 76.3L355 74L348.7 77.4L342.2 82.7L334.2 85.9L328.4 82.5L327.5 75.7L330.8 72.2L326.8 66.1L318 63.3L311.1 56.8L310.2 51L312.3 45.4L316.9 44L324.1 46.6L331.6 45.4L336.4 41.9L341.6 32.8L350.6 29.6L356.8 24.3L363.1 17.1L371.8 15.7L380.2 21.9L381.5 25.7L375.3 33.1L369 40.4L365.8 44L370 48.1L366.9 51.7L364.5 53.9L367.4 54.7L371.3 52.9L377.3 50.4L383.5 44.9L391 41.4L398.5 38.8L407.3 37.1L411.8 34.4"/><path d="M411.8 34.4L417.5 40.2L421.9 42.2L426.3 46L424.8 53.7L420.2 59.3L423.2 62.3L418.6 67L415.6 70.8L421.5 75.6L427.6 77.6L432.1 74.8L436.7 77.6L441.2 76.7L444.3 80.5L444.3 86.2L447.4 92L442.8 93L438.2 95.9L441.3 99.7L442.9 105.4L444.5 111.2L446.1 115L443 118.9L441.5 126.6L440.7 132.4L439.9 138.2L443.2 144L447.9 140.1L454.3 138.1L459 134.2L463.8 136L468.4 132L474.8 132.8L479.4 128.8L484.1 127.6L487.1 123.7L489.2 118.7L489.7 112L490.4 109.1L488 108.2L488.5 100.5L487.3 90.9L483.9 83.4L479.1 75.9L474.3 68.4L470.3 60.8L463.4 53.4L457.4 49.7L457.2 42L460.1 38.2L468.8 35.1L474.5 30.1L482.9 22.2L488.5 17.2L489.5 8.5L491.9 -1.1L495.7 -8.9L501.1 -13"/><path d="M501.1 -13L503.7 -17L507.8 -19.2L511.6 -25.1L516.9 -28.4L522.2 -31.6L528.3 -25.5L535.6 -21.3L545 -26L553.9 -34.6L562.4 -45.1L570.7 -55.7L579.7 -70.3L587.4 -82.8"/><path d="M632.4 -11.1L635.5 -9.8L639 -14.3L642.5 -18.8L649.5 -20.1L645 -28.9L637 -33.2L635.3 -27.1L631.1 -26.4L627.4 -31.5L632.9 -40.2L634.6 -46.3L645.8 -46.5L647.4 -60.3L646.5 -71.8L642.2 -86.4"/><path d="M513.8 147.4L514.9 139.6L521.1 137.3L530.1 128.9L538.9 120.4L547.9 114.8L560.4 113.6L572.7 110.4L580.2 107.6L588.4 110.5L592.1 102.3L599.2 84.9L599.3 74.2L606.5 70.3L603.7 83.3L611 80.3L622.3 72.8L629.6 61L635.8 52.2L636.8 40.4L638.9 26.4L634.6 18.5L637.7 11.1L636.4 3.6L638.8 -7.4L644.8 -6.6L651.7 -8.9L658.5 3.4"/><path d="M513.8 147.4L523.4 146.8L531.5 148.2L535.9 142L546.8 138.2L556.1 134.4L565.2 129.6L573.1 128.8L581.1 128.9L584.4 129.5L580.3 135.8L581.2 143.5L586.6 148.7L593.4 150.8L598.7 141.4L604.3 134.8L608.7 131.2L606.1 123.8L610.9 124.1L615.6 123.4L628.5 123.5L637.8 121L636.4 112.5L642 107.6L648.9 110.4L652.5 112.7L651 104.2L653.2 98.9L660.3 102.5L665.4 95.7"/><path d="M436.7 77.6L445.7 73.8L451.7 67L462.2 66.8L470.3 60.8"/><path d="M437.6 163.4L440 160.5L444.9 158.5L450.5 159.8L449 163.3L443.3 164.9L437.6 163.4Z"/><path d="M496.8 162.9L501.5 157.8L506.2 155.6L510.7 149.6L515.4 148.3L519.1 154.9L527.1 154.3L530.9 161.8L531.5 169.6L527.3 179.6L524.9 193.5L522 199.6L515.7 205.8L512 201.2L505.4 201.5L505 194.7L506.2 186.8L510.8 178.7L503.9 173.3L500.7 175.4L495.7 172.7L497.1 167.8L496.8 162.9Z"/><path d="M532.3 157.8L539.3 165.1L541.3 168.8L547.9 169.2L551.8 158.2L559.5 153.6L568 156.6L575 146.1L572.5 138.6L562.7 136.7L554.7 136.5L548.7 140.9L542.8 147.3L538.4 153.5L532.3 157.8Z"/><path d="M486.4 146.9L490.3 142.9L488.4 135.2L486.1 137.2L486.4 146.9Z"/><path d="M477.8 176.3L481.8 174.2L485.7 168.3L483.1 165.4L480 170.4L477.8 176.3Z"/><path d="M494 154.3L496.1 153.3L495.5 151.3L493.9 152.4L494 154.3Z"/><path d="M441.2 111L441.5 112.1L442.2 116L439.7 113.8L440.4 118L443 118.2L442.1 119.6L441.2 122.5L441 120.5L440.5 122.5L441 127L441.2 125.9L439.4 129.9L441.4 129.2L440.7 128.7L440.5 129.7L439.1 131.3L439 131.8L440.5 136.8L437.4 137.3L440.3 137.4L438.8 139.2L438.8 139.5L438.7 139.2L440 138.4L440.9 139L442 139.4L441.8 143.9L442.9 140.9L444.2 142.4L444.7 143.8L446.2 141.9L445.3 144L448.6 139.3L446.8 140L449.2 142.7L449.8 139.4L453.2 142.3L453.4 141.9L454.9 140.1L456.6 136.7L456.3 136.2L456.7 140L459 139.9L458.5 137.9L461.3 138.7L460.2 135.2L462.3 134.4L465.7 136.8L465.2 135.9L467 135.2L467.8 134.8L470.4 135L469.6 133.7L470 135.4L473.9 134L473.5 136.1L474 132.9L473.6 132.2L477.1 134.1L478.2 131.6L479.5 131.5L480.6 129.1L481 129.7" stroke-width="1.6" stroke="#111"/><circle cx="436.7" cy="88.2" r="1.1" fill="#111" stroke="none"/><circle cx="439.0" cy="100.7" r="1.0" fill="#111" stroke="none"/><circle cx="440.6" cy="107.4" r="1.0" fill="#111" stroke="none"/><circle cx="436.7" cy="116.1" r="0.8" fill="#111" stroke="none"/><circle cx="438.3" cy="130.5" r="1.3" fill="#111" stroke="none"/><circle cx="436.0" cy="136.3" r="1.3" fill="#111" stroke="none"/><circle cx="440.0" cy="143.1" r="1.4" fill="#111" stroke="none"/><circle cx="446.3" cy="143.0" r="1.3" fill="#111" stroke="none"/><circle cx="451.1" cy="141.0" r="1.3" fill="#111" stroke="none"/><circle cx="457.5" cy="140.0" r="1.3" fill="#111" stroke="none"/><circle cx="463.8" cy="137.9" r="1.4" fill="#111" stroke="none"/><circle cx="468.5" cy="134.9" r="1.3" fill="#111" stroke="none"/><circle cx="474.8" cy="134.7" r="1.3" fill="#111" stroke="none"/><circle cx="477.9" cy="130.8" r="1.0" fill="#111" stroke="none"/><circle cx="435.2" cy="141.1" r="1.0" fill="#111" stroke="none"/><circle cx="427.2" cy="144.0" r="0.8" fill="#111" stroke="none"/><circle cx="444.8" cy="145.9" r="1.0" fill="#111" stroke="none"/><circle cx="467.8" cy="138.8" r="0.8" fill="#111" stroke="none"/><circle cx="439.7" cy="79.5" r="1.1" fill="#111" stroke="none"/><circle cx="435.2" cy="146.0" r="1.0" fill="#111" stroke="none"/><circle cx="437.6" cy="148.9" r="0.8" fill="#111" stroke="none"/><circle cx="442.4" cy="146.9" r="1.0" fill="#111" stroke="none"/><circle cx="448.8" cy="144.9" r="1.0" fill="#111" stroke="none"/><circle cx="454.3" cy="142.9" r="1.0" fill="#111" stroke="none"/><circle cx="459.9" cy="141.9" r="1.0" fill="#111" stroke="none"/><circle cx="466.3" cy="140.8" r="0.8" fill="#111" stroke="none"/><circle cx="471.7" cy="137.7" r="1.0" fill="#111" stroke="none"/><circle cx="476.5" cy="135.6" r="0.8" fill="#111" stroke="none"/><circle cx="436.7" cy="133.4" r="0.8" fill="#111" stroke="none"/><circle cx="434.4" cy="130.5" r="0.6" fill="#111" stroke="none"/><circle cx="439.9" cy="135.3" r="0.8" fill="#111" stroke="none"/><circle cx="443.9" cy="139.2" r="0.8" fill="#111" stroke="none"/><circle cx="451.9" cy="139.1" r="0.8" fill="#111" stroke="none"/><circle cx="462.1" cy="135.1" r="0.8" fill="#111" stroke="none"/><circle cx="422.3" cy="147.8" r="0.6" fill="#111" stroke="none"/><circle cx="420.8" cy="138.2" r="0.6" fill="#111" stroke="none"/><path d="M445.1 90.1L450.5 91L459.7 89.9L468.8 87.7L475 90.4L482.6 90.1" stroke-width="0.6"/><path d="M446.1 111.2L452.3 109.2L460.1 111L464.8 112.8L468.1 118.5L466.7 128.2L462.1 131.2" stroke-width="0.6"/><path d="M459.7 89.9L458.3 97.6L464.5 101.3L470.5 93.4L475 90.4" stroke-width="0.6"/><path d="M464.8 112.8L474.2 114.5L481.9 112.3L488.1 111.1" stroke-width="0.6"/><path d="M443 118.9L450.9 122.7L460.3 121.6L466.6 124.3" stroke-width="0.6"/></g><text x="361" y="27.3" font-family="Liberation Sans, Arial, sans-serif" font-size="5.6" fill="#333" textLength="94" lengthAdjust="spacingAndGlyphs">RDR CAPPI(DC) 2017.07.16.05:00 (mm/h)</text><rect x="528" y="30.60" width="3.6" height="5.68" fill="#303030"/><rect x="528" y="36.08" width="3.6" height="5.68" fill="#8a0010"/><rect x="528" y="41.55" width="3.6" height="5.68" fill="#a00818"/><rect x="528" y="47.03" width="3.6" height="5.68" fill="#b81020"/><rect x="528" y="52.50" width="3.6" height="5.68" fill="#c82838"/><rect x="528" y="57.98" width="3.6" height="5.68" fill="#e07888"/><rect x="528" y="63.45" width="3.6" height="5.68" fill="#6a0cbc"/><rect x="528" y="68.93" width="3.6" height="5.68" fill="#7818c8"/><rect x="528" y="74.40" width="3.6" height="5.68" fill="#8828d0"/><rect x="528" y="79.88" width="3.6" height="5.68" fill="#9838d8"/><rect x="528" y="85.35" width="3.6" height="5.68" fill="#a860e0"/><rect x="528" y="90.83" width="3.6" height="5.68" fill="#10107a"/><rect x="528" y="96.30" width="3.6" height="5.68" fill="#181888"/><rect x="528" y="101.78" width="3.6" height="5.68" fill="#3c3ca4"/><rect x="528" y="107.25" width="3.6" height="5.68" fill="#7474c4"/><rect x="528" y="112.73" width="3.6" height="5.68" fill="#b0b0e4"/><rect x="528" y="118.20" width="3.6" height="5.68" fill="#1e5aa8"/><rect x="528" y="123.68" width="3.6" height="5.68" fill="#2a6cb8"/><rect x="528" y="129.15" width="3.6" height="5.68" fill="#3c88cc"/><rect x="528" y="134.62" width="3.6" height="5.68" fill="#60a8e0"/><rect x="528" y="140.10" width="3.6" height="5.68" fill="#a0d4f4"/><rect x="528" y="145.58" width="3.6" height="5.68" fill="#108a10"/><rect x="528" y="151.05" width="3.6" height="5.68" fill="#28a028"/><rect x="528" y="156.53" width="3.6" height="5.68" fill="#40b840"/><rect x="528" y="162.00" width="3.6" height="5.68" fill="#70d070"/><rect x="528" y="167.47" width="3.6" height="5.68" fill="#a8e0a0"/><rect x="528" y="172.95" width="3.6" height="5.68" fill="#c8a828"/><rect x="528" y="178.43" width="3.6" height="5.68" fill="#d4b430"/><rect x="528" y="183.90" width="3.6" height="5.68" fill="#e0c438"/><rect x="528" y="189.38" width="3.6" height="5.68" fill="#ecd440"/><rect x="528" y="194.85" width="3.6" height="5.68" fill="#f6e680"/><rect x="528" y="200.33" width="3.6" height="5.68" fill="#fbf6d8"/><g font-family="Liberation Sans, Arial, sans-serif" font-size="4.3" fill="#444"><text x="532.3" y="37.58">100</text><text x="532.3" y="43.05">90</text><text x="532.3" y="48.53">80</text><text x="532.3" y="54.00">70</text><text x="532.3" y="59.48">60</text><text x="532.3" y="64.95">50</text><text x="532.3" y="70.43">40</text><text x="532.3" y="75.90">35</text><text x="532.3" y="81.38">30</text><text x="532.3" y="86.85">25</text><text x="532.3" y="92.33">20</text><text x="532.3" y="97.80">18</text><text x="532.3" y="103.28">16</text><text x="532.3" y="108.75">14</text><text x="532.3" y="114.23">12</text><text x="532.3" y="119.70">10</text><text x="532.3" y="125.18">9</text><text x="532.3" y="130.65">8</text><text x="532.3" y="136.12">7</text><text x="532.3" y="141.60">6</text><text x="532.3" y="147.08">5</text><text x="532.3" y="152.55">4</text><text x="532.3" y="158.03">3</text><text x="532.3" y="163.50">2</text><text x="532.3" y="168.97">1.5</text><text x="532.3" y="174.45">1.0</text><text x="532.3" y="179.93">0.8</text><text x="532.3" y="185.40">0.6</text><text x="532.3" y="190.88">0.4</text><text x="532.3" y="196.35">0.2</text><text x="532.3" y="201.83">0.0</text></g>
<text x="393.4" y="15.8" font-family="Liberation Serif, Times New Roman, serif" font-weight="bold" font-size="16.5" fill="#111">(c)</text>
<rect x="355.6" y="243.9" width="174.4" height="165.5" fill="#0a4a4a"/><g clip-path="url(#cd)"><g filter="url(#tex)"><path d="M340 238L394 238L394 290L340 294Z" fill="#0a6666" filter="url(#db6)" opacity="1"/><ellipse cx="366" cy="262" rx="12" ry="12" fill="#0e7676" filter="url(#db5)" opacity="1" transform="rotate(0 366 262)"/><ellipse cx="384" cy="278" rx="9" ry="9" fill="#0a4c4c" filter="url(#db5)" opacity="1" transform="rotate(0 384 278)"/><path d="M398 240L428 240L432 262L426 288L400 290Z" fill="#062a2c" filter="url(#db6)" opacity="1"/><ellipse cx="410" cy="272" rx="10" ry="11" fill="#031a1c" filter="url(#db5)" opacity="1" transform="rotate(0 410 272)"/><ellipse cx="428" cy="258" rx="8" ry="7" fill="#3ee6e6" filter="url(#db3)" opacity="1" transform="rotate(0 428 258)"/><ellipse cx="446" cy="262" rx="17" ry="10" fill="#a4fcfc" filter="url(#db3)" opacity="1" transform="rotate(0 446 262)"/><ellipse cx="444" cy="262" rx="9" ry="6" fill="#ccffff" filter="url(#db2)" opacity="1" transform="rotate(0 444 262)"/><ellipse cx="470" cy="262" rx="10" ry="12" fill="#2a8c8c" filter="url(#db3)" opacity="1" transform="rotate(0 470 262)"/><ellipse cx="489" cy="265" rx="11" ry="17" fill="#6a2636" filter="url(#db3)" opacity="1" transform="rotate(0 489 265)"/><ellipse cx="490" cy="256" rx="8" ry="7" fill="#8a3a4a" filter="url(#db3)" opacity="1" transform="rotate(0 490 256)"/><ellipse cx="480" cy="283" rx="13" ry="9" fill="#081214" filter="url(#db3)" opacity="1" transform="rotate(0 480 283)"/><ellipse cx="484" cy="278" rx="8" ry="6" fill="#3a1620" filter="url(#db3)" opacity="1" transform="rotate(0 484 278)"/><path d="M497 240L540 240L540 336L524 336L512 326L504 305L498 280L496 258Z" fill="#d4b4bc" filter="url(#db4)" opacity="1"/><ellipse cx="508" cy="285" rx="6" ry="10" fill="#f0e8ea" filter="url(#db3)" opacity="1" transform="rotate(0 508 285)"/><ellipse cx="526" cy="300" rx="5" ry="9" fill="#e8d8dc" filter="url(#db3)" opacity="1" transform="rotate(0 526 300)"/><ellipse cx="514" cy="310" rx="5" ry="6" fill="#c4a4ae" filter="url(#db3)" opacity="1" transform="rotate(0 514 310)"/><ellipse cx="516" cy="262" rx="10" ry="10" fill="#f0e2e4" filter="url(#db3)" opacity="1" transform="rotate(0 516 262)"/><ellipse cx="524" cy="300" rx="8" ry="14" fill="#d4b8c0" filter="url(#db3)" opacity="1" transform="rotate(0 524 300)"/><path d="M492 304L499 287L506 270" stroke="#cceeee" stroke-width="6" fill="none" filter="url(#db4)" opacity="0.9" stroke-linecap="round"/><ellipse cx="512" cy="322" rx="8" ry="8" fill="#b8dcdc" filter="url(#db3)" opacity="1" transform="rotate(0 512 322)"/><path d="M500 330L525 300" stroke="#e8f4f4" stroke-width="3" fill="none" filter="url(#db3)" opacity="0.85" stroke-linecap="round"/><path d="M505 312L530 285" stroke="#f4eef0" stroke-width="3" fill="none" filter="url(#db3)" opacity="0.85" stroke-linecap="round"/><path d="M490 335L510 318" stroke="#a8e4e4" stroke-width="3" fill="none" filter="url(#db3)" opacity="0.85" stroke-linecap="round"/><path d="M512 340L532 322" stroke="#bfe8e8" stroke-width="3" fill="none" filter="url(#db3)" opacity="0.85" stroke-linecap="round"/><path d="M498 275L520 258" stroke="#f6f0f2" stroke-width="3" fill="none" filter="url(#db3)" opacity="0.85" stroke-linecap="round"/><path d="M350 284L440 282L475 288L475 305L440 304L350 306Z" fill="#1c7c7c" filter="url(#db4)" opacity="1"/><path d="M360 286L420 285" stroke="#4aa8a8" stroke-width="1.8" fill="none" filter="url(#db3)" opacity="0.8" stroke-linecap="round"/><path d="M365 290L440 289" stroke="#3a9c9c" stroke-width="1.8" fill="none" filter="url(#db3)" opacity="0.8" stroke-linecap="round"/><path d="M358 295L400 294" stroke="#54b0b0" stroke-width="1.8" fill="none" filter="url(#db3)" opacity="0.8" stroke-linecap="round"/><path d="M430 288L472 287" stroke="#3a9c9c" stroke-width="1.8" fill="none" filter="url(#db3)" opacity="0.8" stroke-linecap="round"/><path d="M420 297L470 296" stroke="#4aa8a8" stroke-width="1.8" fill="none" filter="url(#db3)" opacity="0.8" stroke-linecap="round"/><path d="M372 301L430 300" stroke="#40a8a8" stroke-width="1.8" fill="none" filter="url(#db3)" opacity="0.8" stroke-linecap="round"/><path d="M408.6 292.0Q427.6 291.9 446.5 292.1" stroke="#6cc4c4" stroke-width="0.9524308973099381" fill="none" filter="url(#db1)" opacity="0.5146311203492069" stroke-linecap="round"/><path d="M415.2 293.2Q432.3 292.0 449.4 292.6" stroke="#6cc4c4" stroke-width="0.6544023224951037" fill="none" filter="url(#db1)" opacity="0.7333755870285121" stroke-linecap="round"/><path d="M359.9 296.9Q379.7 298.3 399.4 297.3" stroke="#6cc4c4" stroke-width="0.9693376227471424" fill="none" filter="url(#db1)" opacity="0.5051229332990569" stroke-linecap="round"/><path d="M405.7 283.3Q412.5 282.4 419.3 282.5" stroke="#6cc4c4" stroke-width="0.6180495535348731" fill="none" filter="url(#db1)" opacity="0.6123770614281496" stroke-linecap="round"/><path d="M435.2 291.8Q448.5 292.2 461.7 291.8" stroke="#6cc4c4" stroke-width="0.9974697191342208" fill="none" filter="url(#db1)" opacity="0.6100654585598452" stroke-linecap="round"/><path d="M449.8 288.6Q469.7 289.6 489.7 289.2" stroke="#6cc4c4" stroke-width="0.7891663302093299" fill="none" filter="url(#db1)" opacity="0.5303830655627669" stroke-linecap="round"/><path d="M362.6 288.8Q379.3 288.5 396.1 289.8" stroke="#6cc4c4" stroke-width="0.8319081190235607" fill="none" filter="url(#db1)" opacity="0.7853148341619347" stroke-linecap="round"/><path d="M356.1 299.9Q365.0 301.2 373.9 299.9" stroke="#6cc4c4" stroke-width="1.1882153647045752" fill="none" filter="url(#db1)" opacity="0.5890985358277484" stroke-linecap="round"/><path d="M415.2 284.5Q432.1 283.8 449.0 283.2" stroke="#6cc4c4" stroke-width="0.7995513752780087" fill="none" filter="url(#db1)" opacity="0.7874266758078174" stroke-linecap="round"/><path d="M367.1 298.2Q376.5 297.0 386.0 296.8" stroke="#6cc4c4" stroke-width="1.0782129071063844" fill="none" filter="url(#db1)" opacity="0.5121873448694282" stroke-linecap="round"/><path d="M398.1 294.2Q406.7 294.9 415.4 293.1" stroke="#6cc4c4" stroke-width="0.9862290742267003" fill="none" filter="url(#db1)" opacity="0.49077779567389695" stroke-linecap="round"/><path d="M376.0 291.4Q385.8 292.8 395.6 292.3" stroke="#6cc4c4" stroke-width="0.7824870899225936" fill="none" filter="url(#db1)" opacity="0.7597027894621398" stroke-linecap="round"/><path d="M393.1 287.2Q411.0 287.6 429.0 286.0" stroke="#6cc4c4" stroke-width="1.1935810185061033" fill="none" filter="url(#db1)" opacity="0.524635179002133" stroke-linecap="round"/><path d="M428.6 288.2Q439.2 287.6 449.8 286.9" stroke="#6cc4c4" stroke-width="0.6540703037771581" fill="none" filter="url(#db1)" opacity="0.6539571793586432" stroke-linecap="round"/><path d="M412.5 287.9Q423.7 287.7 434.9 289.2" stroke="#6cc4c4" stroke-width="0.890234719957527" fill="none" filter="url(#db1)" opacity="0.6510999359004817" stroke-linecap="round"/><path d="M373.2 300.3Q381.3 301.6 389.5 301.3" stroke="#6cc4c4" stroke-width="0.7496991398575498" fill="none" filter="url(#db1)" opacity="0.5164302330871411" stroke-linecap="round"/><path d="M444.4 297.8Q453.2 299.1 461.9 298.9" stroke="#6cc4c4" stroke-width="0.962120528870066" fill="none" filter="url(#db1)" opacity="0.5975100283815753" stroke-linecap="round"/><path d="M359.6 285.1Q379.1 284.3 398.6 285.7" stroke="#6cc4c4" stroke-width="0.7541888389921871" fill="none" filter="url(#db1)" opacity="0.7383012463650735" stroke-linecap="round"/><path d="M383.6 294.9Q392.0 295.6 400.5 293.6" stroke="#6cc4c4" stroke-width="0.7370378023950751" fill="none" filter="url(#db1)" opacity="0.6457782199884032" stroke-linecap="round"/><path d="M413.7 300.0Q423.7 301.3 433.6 299.2" stroke="#6cc4c4" stroke-width="0.609944875847493" fill="none" filter="url(#db1)" opacity="0.5442178748100943" stroke-linecap="round"/><path d="M361.7 291.9Q370.2 291.5 378.6 292.1" stroke="#6cc4c4" stroke-width="0.6789471123763566" fill="none" filter="url(#db1)" opacity="0.5767508048448183" stroke-linecap="round"/><path d="M448.2 300.8Q463.4 301.4 478.6 301.1" stroke="#6cc4c4" stroke-width="0.6842083122873707" fill="none" filter="url(#db1)" opacity="0.4622781878207295" stroke-linecap="round"/><path d="M445 292L492 292L500 312L532 320L532 356L470 356L445 340Z" fill="#2cc4c4" filter="url(#db4)" opacity="1"/><ellipse cx="458" cy="302" rx="14" ry="7" fill="#38d4d4" filter="url(#db4)" opacity="1" transform="rotate(0 458 302)"/><ellipse cx="476" cy="308" rx="10" ry="6" fill="#1c9a9a" filter="url(#db4)" opacity="1" transform="rotate(0 476 308)"/><path d="M505 322L532 332" stroke="#a8dede" stroke-width="4" fill="none" filter="url(#db3)" opacity="0.8" stroke-linecap="round"/><path d="M478 342L528 332" stroke="#44d0d0" stroke-width="4" fill="none" filter="url(#db3)" opacity="0.8" stroke-linecap="round"/><path d="M366 306L446 302L472 311L470 352L446 358L412 364L395 372L368 376L362 340Z" fill="#14e2e2" filter="url(#db4)" opacity="1"/><ellipse cx="390" cy="336" rx="24" ry="24" fill="#2cfcfc" filter="url(#db4)" opacity="1" transform="rotate(0 390 336)"/><ellipse cx="453" cy="329" rx="14" ry="21" fill="#44ffff" filter="url(#db4)" opacity="1" transform="rotate(0 453 329)"/><ellipse cx="418" cy="322" rx="20" ry="10" fill="#18f0f0" filter="url(#db4)" opacity="1" transform="rotate(0 418 322)"/><ellipse cx="428" cy="348" rx="16" ry="12" fill="#12b4b4" filter="url(#db4)" opacity="1" transform="rotate(0 428 348)"/><ellipse cx="410" cy="362" rx="14" ry="6" fill="#0c7c7c" filter="url(#db4)" opacity="1" transform="rotate(0 410 362)"/><ellipse cx="375" cy="370" rx="20" ry="12" fill="#16d8d8" filter="url(#db4)" opacity="1" transform="rotate(0 375 370)"/><ellipse cx="360" cy="345" rx="6" ry="24" fill="#0e7676" filter="url(#db4)" opacity="1" transform="rotate(0 360 345)"/><path d="M394 414L392 388L420 377L450 366L490 355L534 349L534 414Z" fill="#051a1c" filter="url(#db4)" opacity="1"/><path d="M438 372L478 358L500 360L470 373L440 381Z" fill="#031214" filter="url(#db3)" opacity="1"/><path d="M400 396L440 384L490 369L534 357" stroke="#157272" stroke-width="7" fill="none" filter="url(#db4)" opacity="1" stroke-linecap="round"/><path d="M470 394L510 382L534 374" stroke="#0c4040" stroke-width="5" fill="none" filter="url(#db4)" opacity="1" stroke-linecap="round"/><path d="M372 372L420 362L460 352" stroke="#0e9a9a" stroke-width="5" fill="none" filter="url(#db4)" opacity="0.8" stroke-linecap="round"/><ellipse cx="370" cy="396" rx="17" ry="16" fill="#0f6464" filter="url(#db5)" opacity="1" transform="rotate(0 370 396)"/><ellipse cx="388" cy="382" rx="12" ry="6" fill="#1a8c8c" filter="url(#db4)" opacity="1" transform="rotate(0 388 382)"/></g><path d="M377.9 426.5L378.6 415.4L379.3 404.3L380.0 393.3L380.7 382.4L381.4 371.5L382.1 360.6L382.7 349.7L383.4 338.9L384.1 328.2L384.8 317.4L385.5 306.7L386.1 296.0L386.8 285.3L387.5 274.6L388.1 263.9L388.8 253.3L389.5 242.6L390.1 232.0M427.1 428.1L427.1 416.9L427.1 405.9L427.1 394.8L427.1 383.9L427.1 372.9L427.1 362.0L427.1 351.1L427.1 340.3L427.1 329.5L427.2 318.7L427.2 308.0L427.2 297.3L427.2 286.5L427.2 275.8L427.2 265.2L427.2 254.5L427.2 243.8L427.2 233.1M476.3 426.5L475.6 415.4L474.9 404.4L474.3 393.4L473.6 382.4L472.9 371.5L472.2 360.6L471.5 349.8L470.9 339.0L470.2 328.2L469.5 317.4L468.9 306.7L468.2 296.0L467.5 285.3L466.9 274.6L466.2 264.0L465.5 253.3L464.9 242.6L464.2 232.0M525.3 422.0L523.9 410.9L522.6 399.9L521.2 389.0L519.8 378.1L518.5 367.2L517.1 356.4L515.8 345.6L514.4 334.9L513.1 324.2L511.7 313.5L510.4 302.8L509.1 292.2L507.8 281.5L506.4 270.9L505.1 260.3L503.8 249.7L502.4 239.1L501.1 228.5M303.3 395.7L312.7 397.2L322.2 398.6L331.7 399.9L341.2 401.0L350.7 402.0L360.2 402.9L369.8 403.7L379.3 404.3L388.9 404.9L398.4 405.3L408.0 405.6L417.6 405.8L427.1 405.9L436.7 405.8L446.3 405.6L455.8 405.3L465.4 404.9L474.9 404.4L484.5 403.7L494.0 403.0L503.6 402.1L513.1 401.1L522.6 399.9L532.1 398.7L541.5 397.3L551.0 395.8L560.4 394.2L569.8 392.5L579.2 390.7M312.1 341.7L320.9 343.1L329.7 344.4L338.5 345.6L347.3 346.6L356.2 347.6L365.0 348.4L373.9 349.1L382.7 349.7L391.6 350.2L400.5 350.6L409.4 350.9L418.3 351.1L427.1 351.1L436.0 351.1L444.9 350.9L453.8 350.7L462.7 350.3L471.5 349.8L480.4 349.2L489.3 348.5L498.1 347.6L507.0 346.7L515.8 345.6L524.6 344.5L533.4 343.2L542.2 341.8L550.9 340.3L559.7 338.7L568.4 337.0M320.9 288.6L329.0 289.8L337.1 291.0L345.2 292.1L353.4 293.1L361.6 294.0L369.7 294.7L377.9 295.4L386.1 296.0L394.3 296.4L402.5 296.8L410.7 297.0L418.9 297.2L427.2 297.3L435.4 297.2L443.6 297.1L451.8 296.8L460.0 296.4L468.2 296.0L476.4 295.4L484.6 294.8L492.8 294.0L500.9 293.1L509.1 292.2L517.2 291.1L525.4 289.9L533.5 288.6L541.6 287.3L549.6 285.8L557.7 284.2M329.5 235.8L337.0 237.0L344.4 238.1L351.9 239.1L359.4 240.0L366.9 240.8L374.4 241.5L382.0 242.1L389.5 242.6L397.0 243.0L404.6 243.4L412.1 243.6L419.6 243.8L427.2 243.8L434.7 243.8L442.3 243.6L449.8 243.4L457.4 243.1L464.9 242.6L472.4 242.1L479.9 241.5L487.4 240.8L495.0 240.0L502.4 239.1L509.9 238.1L517.4 237.1L524.8 235.9L532.3 234.6L539.7 233.3L547.1 231.8" fill="none" stroke="#c8c050" stroke-width="0.7" stroke-dasharray="0.7 1.5" opacity="0.8"/><g fill="none" stroke="#d8d040" stroke-width="0.7" stroke-linejoin="round"><path d="M398.3 407.5L397.5 404.2L393.7 404.6L389.0 401.6L385.3 400.8L389.2 397.7L395.0 395.8L398.3 394.8L397.1 390.9L392.5 387.4L398.2 386.0L395.6 382.6L390.2 377.4L389.0 374.1L387.0 368.5L385.2 360.8L382.3 357.3L377.9 354.9L375.5 351.4L376.6 348.2L378.6 345.1L381.5 342.1L384.3 339.5L386.1 338.6L389.7 336.1L391.5 334.5L396.9 332.1L401.3 330.1L405.6 330.2L407.0 327.1L405.7 324.9L402.4 323.7L398.1 324.0L393.9 321.1L390.6 319.9L387.1 321.9L383.4 324.9L379.0 326.7L375.7 324.9L375.1 321.0L377.0 319.0L374.7 315.6L369.7 314.1L365.8 310.5L365.3 307.2L366.4 304.1L369.0 303.3L373.0 304.7L377.3 303.9L379.9 302.0L382.8 296.8L387.8 295.0L391.3 292.0L394.8 287.9L399.7 287.0L404.4 290.4L405.1 292.6L401.7 296.8L398.2 300.9L396.5 303.0L398.9 305.2L397.1 307.3L395.8 308.5L397.5 308.9L399.6 307.9L403.0 306.5L406.4 303.4L410.6 301.3L414.8 299.8L419.8 298.8L422.2 297.2"/><path d="M422.2 297.2L425.5 300.5L428.0 301.5L430.5 303.7L429.7 308.0L427.2 311.2L428.8 312.8L426.3 315.5L424.6 317.7L428.0 320.4L431.4 321.4L433.9 319.8L436.5 321.4L439.1 320.8L440.8 322.9L440.9 326.1L442.7 329.3L440.1 329.9L437.5 331.6L439.3 333.7L440.2 337.0L441.1 340.2L442.1 342.3L440.4 344.5L439.5 348.9L439.2 352.1L438.8 355.4L440.6 358.6L443.3 356.4L446.8 355.2L449.4 353.0L452.1 354.0L454.7 351.7L458.3 352.1L460.9 349.8L463.5 349.1L465.2 346.9L466.3 344.1L466.6 340.3L466.9 338.7L465.6 338.2L465.8 333.9L465.0 328.5L463.1 324.3L460.3 320.1L457.6 315.9L455.3 311.7L451.4 307.6L448.0 305.5L447.8 301.2L449.4 299.0L454.3 297.2L457.4 294.4L462.1 289.9L465.2 287.0L465.7 282.2L467.0 276.8L469.1 272.3L472.1 270.0"/><path d="M472.1 270.0L473.5 267.7L475.8 266.5L477.9 263.1L480.9 261.3L483.8 259.4L487.3 262.8L491.5 265.1L496.7 262.4L501.6 257.5L506.3 251.5L510.9 245.5L515.9 237.3L520.1 230.2"/><path d="M422.2 297.2L426.3 292.4L431.2 288.7L435.2 285.4L439.2 280.0L444.0 281.0L448.8 281.4L452.8 279.6L451.8 275.9L455.8 275.2L460.5 273.9L464.2 270.0L467.2 266.6L469.6 268.0L472.1 270.0"/><path d="M472.1 270.0L471.2 267.9L473.3 264.5L475.4 261.2L475.1 256.9L475.4 251.5L472.8 247.4L473.2 243.1L478.3 239.5L481.1 237.1"/><path d="M545.9 270.2L547.6 270.9L549.6 268.4L551.5 265.8L555.4 265.0L552.8 260.1L548.3 257.7L547.4 261.2L545.1 261.6L542.9 258.7L546.0 253.8L546.9 250.4L553.2 250.2L554.0 242.4L553.4 236.0L550.9 227.8"/><path d="M480.3 360.1L480.9 355.7L484.4 354.3L489.4 349.5L494.3 344.7L499.3 341.5L506.3 340.8L513.2 338.9L517.4 337.2L522.0 338.8L524.0 334.2L527.9 324.3L527.9 318.3L531.9 316.1L530.4 323.4L534.5 321.7L540.8 317.4L544.8 310.7L548.2 305.7L548.7 299.1L549.8 291.2L547.3 286.8L549.0 282.6L548.2 278.4L549.5 272.2L552.9 272.6L556.7 271.3L560.6 278.1"/><path d="M480.3 360.1L485.7 359.7L490.3 360.4L492.7 356.9L498.8 354.6L504.0 352.5L509.1 349.7L513.5 349.2L518.0 349.2L519.9 349.5L517.6 353.1L518.2 357.4L521.3 360.3L525.1 361.4L528.0 356.1L531.1 352.3L533.5 350.3L532.0 346.2L534.7 346.3L537.4 345.9L544.6 345.8L549.8 344.4L549.0 339.6L552.1 336.8L556.0 338.3L558.0 339.6L557.1 334.8L558.4 331.8L562.3 333.8L565.2 330.0"/><path d="M436.5 321.4L441.6 319.1L444.9 315.3L450.8 315.1L455.3 311.7"/><path d="M331.6 400.1L339.3 400.2L346.5 396.6L352.5 393.9L358.5 390.0L364.6 385.6L368.7 380.4L373.5 378.6L379.1 378.8L383.5 382.0L389.0 383.7L393.6 385.1L398.2 386.4"/><path d="M437.6 369.6L439.0 367.9L441.7 366.8L444.9 367.5L444.0 369.5L440.8 370.4L437.6 369.6Z"/><path d="M470.9 368.9L473.5 366.0L476.1 364.7L478.6 361.3L481.3 360.5L483.4 364.2L487.9 363.8L490.1 368.0L490.4 372.4L488.1 378.1L486.9 385.9L485.3 389.3L481.8 392.9L479.7 390.3L476.0 390.5L475.7 386.7L476.4 382.2L478.8 377.7L474.9 374.7L473.2 375.9L470.3 374.4L471.1 371.6L470.9 368.9Z"/><path d="M490.8 365.8L494.8 369.8L495.9 371.9L499.6 372.1L501.8 365.8L506.1 363.2L510.8 364.9L514.7 358.9L513.3 354.7L507.7 353.7L503.2 353.6L499.9 356.2L496.6 359.8L494.2 363.3L490.8 365.8Z"/><path d="M465.0 359.9L467.1 357.7L466.0 353.4L464.7 354.5L465.0 359.9Z"/><path d="M460.3 376.6L462.5 375.4L464.7 372.0L463.2 370.4L461.5 373.2L460.3 376.6Z"/></g></g><rect x="355.6" y="243.9" width="174.4" height="6.1" fill="#080808"/><text x="359" y="248.9" font-family="Liberation Mono, monospace" font-weight="bold" font-size="5" fill="#e6dcaa" textLength="150" lengthAdjust="spacingAndGlyphs">COMS COM 2017-07-15 20:00 UTC(07.16 05:00 KST)KMA</text>
<text x="384.6" y="238" font-family="Liberation Serif, Times New Roman, serif" font-weight="bold" font-size="17" fill="#111">(d)</text>
</svg></body></html>
